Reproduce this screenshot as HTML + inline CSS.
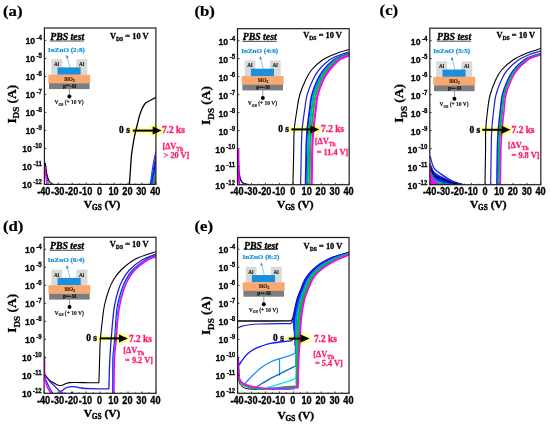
<!DOCTYPE html>
<html><head><meta charset="utf-8"><title>PBS test transfer curves</title>
<style>
html,body{margin:0;padding:0;background:#fff;}
svg{display:block;}
text{white-space:pre;}
</style></head>
<body>
<svg width="550" height="426" viewBox="0 0 550 426">
<rect width="550" height="426" fill="#fff"/>
<g filter="url(#soft)">
<defs><filter id="soft" x="0" y="0" width="550" height="426" filterUnits="userSpaceOnUse"><feGaussianBlur stdDeviation="0.38"/></filter><filter id="glow" x="-20%" y="-60%" width="140%" height="220%"><feGaussianBlur stdDeviation="0.9"/></filter></defs>
<g>
<clipPath id="clipa"><rect x="44.40" y="28.00" width="111.50" height="156.40"/></clipPath>
<g clip-path="url(#clipa)" fill="none" stroke-linejoin="round" stroke-linecap="round">
<path d="M129.40,184.40 C129.60,181.57 130.25,172.27 130.60,167.40 C130.95,162.53 131.03,159.37 131.50,155.20 C131.97,151.03 132.72,146.43 133.40,142.40 C134.08,138.37 134.97,133.90 135.60,131.00 C136.23,128.10 136.55,127.57 137.20,125.00 C137.85,122.43 138.63,118.43 139.50,115.60 C140.37,112.77 141.55,109.90 142.40,108.00 C143.25,106.10 144.03,105.07 144.60,104.20 C145.17,103.33 145.60,103.03 145.80,102.80 L145.80,102.80 L156.00,97.30" stroke="#000" stroke-width="1.3" fill="none"/>
<path d="M150.30,184.40 C150.75,181.17 152.05,170.57 153.00,165.00 C153.95,159.43 155.50,153.33 156.00,151.00" stroke="#0a1aff" stroke-width="1.0" fill="none"/>
<path d="M151.00,184.40 C151.43,181.67 152.77,172.90 153.60,168.00 C154.43,163.10 155.60,157.17 156.00,155.00 L156.00,184.40 L151.00,184.40" stroke="#1f1fd6" stroke-width="1.0" fill="#0a1aff"/>
<path d="M152.60,184.40 C152.87,183.00 153.63,178.73 154.20,176.00 C154.77,173.27 155.70,169.33 156.00,168.00 L156.00,184.40 L152.60,184.40" stroke="#00a5c8" stroke-width="1.0" fill="#00a5c8"/>
<path d="M153.60,184.40 C153.80,183.33 154.40,180.07 154.80,178.00 C155.20,175.93 155.80,173.00 156.00,172.00 L156.00,184.40 L153.60,184.40" stroke="#00c21a" stroke-width="1.0" fill="#00c21a"/>
<path d="M154.60,184.40 C154.72,183.67 155.07,181.32 155.30,180.00 C155.53,178.68 155.88,177.08 156.00,176.50 L156.00,184.40 L154.60,184.40" stroke="#ff00ff" stroke-width="1.0" fill="#ff00ff"/>
<path d="M45.60,165.00 C45.80,167.00 46.30,173.78 46.80,177.00 C47.30,180.22 48.30,183.08 48.60,184.30" stroke="#0a1aff" stroke-width="0.9" fill="none"/>
<path d="M45.20,163.00 C45.40,164.50 45.93,169.43 46.40,172.00 C46.87,174.57 47.40,176.68 48.00,178.40 C48.60,180.12 49.17,181.32 50.00,182.30 C50.83,183.28 52.50,183.97 53.00,184.30" stroke="#000" stroke-width="1.2" fill="none"/>
<path d="M45.30,167.00 C45.38,168.50 45.53,173.12 45.80,176.00 C46.07,178.88 46.72,182.92 46.90,184.30" stroke="#ff00ff" stroke-width="1.4" fill="none"/>
</g>
<rect x="44.40" y="28.00" width="111.50" height="156.40" fill="none" stroke="#1e1e1e" stroke-width="1.2"/>
<path d="M44.40,184.40v-1.8 M58.34,184.40v-1.8 M72.28,184.40v-1.8 M86.21,184.40v-1.8 M100.15,184.40v-1.8 M114.09,184.40v-1.8 M128.03,184.40v-1.8 M141.96,184.40v-1.8 M155.90,184.40v-1.8 M51.37,184.40v-1 M65.31,184.40v-1 M79.24,184.40v-1 M93.18,184.40v-1 M107.12,184.40v-1 M121.06,184.40v-1 M134.99,184.40v-1 M148.93,184.40v-1 M44.40,184.40h2 M44.40,166.40h2 M44.40,148.40h2 M44.40,130.40h2 M44.40,112.40h2 M44.40,94.40h2 M44.40,76.40h2 M44.40,58.40h2 M44.40,40.40h2" stroke="#2a2a2a" stroke-width="0.9" fill="none"/>
<text transform="translate(43.80,194.60) scale(1.02,1.13)" font-family="'Liberation Sans',Arial,sans-serif" font-size="9.00" font-weight="bold" fill="#000" stroke="#000" stroke-width="0.28" text-anchor="middle">-40</text>
<text transform="translate(57.74,194.60) scale(1.02,1.13)" font-family="'Liberation Sans',Arial,sans-serif" font-size="9.00" font-weight="bold" fill="#000" stroke="#000" stroke-width="0.28" text-anchor="middle">-30</text>
<text transform="translate(71.68,194.60) scale(1.02,1.13)" font-family="'Liberation Sans',Arial,sans-serif" font-size="9.00" font-weight="bold" fill="#000" stroke="#000" stroke-width="0.28" text-anchor="middle">-20</text>
<text transform="translate(85.61,194.60) scale(1.02,1.13)" font-family="'Liberation Sans',Arial,sans-serif" font-size="9.00" font-weight="bold" fill="#000" stroke="#000" stroke-width="0.28" text-anchor="middle">-10</text>
<text transform="translate(99.55,194.60) scale(1.02,1.13)" font-family="'Liberation Sans',Arial,sans-serif" font-size="9.00" font-weight="bold" fill="#000" stroke="#000" stroke-width="0.28" text-anchor="middle">0</text>
<text transform="translate(113.49,194.60) scale(1.02,1.13)" font-family="'Liberation Sans',Arial,sans-serif" font-size="9.00" font-weight="bold" fill="#000" stroke="#000" stroke-width="0.28" text-anchor="middle">10</text>
<text transform="translate(127.43,194.60) scale(1.02,1.13)" font-family="'Liberation Sans',Arial,sans-serif" font-size="9.00" font-weight="bold" fill="#000" stroke="#000" stroke-width="0.28" text-anchor="middle">20</text>
<text transform="translate(141.36,194.60) scale(1.02,1.13)" font-family="'Liberation Sans',Arial,sans-serif" font-size="9.00" font-weight="bold" fill="#000" stroke="#000" stroke-width="0.28" text-anchor="middle">30</text>
<text transform="translate(155.30,194.60) scale(1.02,1.13)" font-family="'Liberation Sans',Arial,sans-serif" font-size="9.00" font-weight="bold" fill="#000" stroke="#000" stroke-width="0.28" text-anchor="middle">40</text>
<text transform="translate(31.90,188.30) scale(0.97,1.09)" font-family="'Liberation Sans',Arial,sans-serif" font-size="9.00" font-weight="bold" fill="#000" stroke="#000" stroke-width="0.28" text-anchor="end">10</text>
<text transform="translate(42.00,184.20) scale(0.97,1.0)" font-family="'Liberation Sans',Arial,sans-serif" font-size="6.30" font-weight="bold" fill="#000" stroke="#000" stroke-width="0.28" text-anchor="end">-12</text>
<text transform="translate(31.90,170.30) scale(0.97,1.09)" font-family="'Liberation Sans',Arial,sans-serif" font-size="9.00" font-weight="bold" fill="#000" stroke="#000" stroke-width="0.28" text-anchor="end">10</text>
<text transform="translate(42.00,166.20) scale(0.97,1.0)" font-family="'Liberation Sans',Arial,sans-serif" font-size="6.30" font-weight="bold" fill="#000" stroke="#000" stroke-width="0.28" text-anchor="end">-11</text>
<text transform="translate(31.90,152.30) scale(0.97,1.09)" font-family="'Liberation Sans',Arial,sans-serif" font-size="9.00" font-weight="bold" fill="#000" stroke="#000" stroke-width="0.28" text-anchor="end">10</text>
<text transform="translate(42.00,148.20) scale(0.97,1.0)" font-family="'Liberation Sans',Arial,sans-serif" font-size="6.30" font-weight="bold" fill="#000" stroke="#000" stroke-width="0.28" text-anchor="end">-10</text>
<text transform="translate(35.10,134.30) scale(0.97,1.09)" font-family="'Liberation Sans',Arial,sans-serif" font-size="9.00" font-weight="bold" fill="#000" stroke="#000" stroke-width="0.28" text-anchor="end">10</text>
<text transform="translate(42.00,130.20) scale(0.97,1.0)" font-family="'Liberation Sans',Arial,sans-serif" font-size="6.30" font-weight="bold" fill="#000" stroke="#000" stroke-width="0.28" text-anchor="end">-9</text>
<text transform="translate(35.10,116.30) scale(0.97,1.09)" font-family="'Liberation Sans',Arial,sans-serif" font-size="9.00" font-weight="bold" fill="#000" stroke="#000" stroke-width="0.28" text-anchor="end">10</text>
<text transform="translate(42.00,112.20) scale(0.97,1.0)" font-family="'Liberation Sans',Arial,sans-serif" font-size="6.30" font-weight="bold" fill="#000" stroke="#000" stroke-width="0.28" text-anchor="end">-8</text>
<text transform="translate(35.10,98.30) scale(0.97,1.09)" font-family="'Liberation Sans',Arial,sans-serif" font-size="9.00" font-weight="bold" fill="#000" stroke="#000" stroke-width="0.28" text-anchor="end">10</text>
<text transform="translate(42.00,94.20) scale(0.97,1.0)" font-family="'Liberation Sans',Arial,sans-serif" font-size="6.30" font-weight="bold" fill="#000" stroke="#000" stroke-width="0.28" text-anchor="end">-7</text>
<text transform="translate(35.10,80.30) scale(0.97,1.09)" font-family="'Liberation Sans',Arial,sans-serif" font-size="9.00" font-weight="bold" fill="#000" stroke="#000" stroke-width="0.28" text-anchor="end">10</text>
<text transform="translate(42.00,76.20) scale(0.97,1.0)" font-family="'Liberation Sans',Arial,sans-serif" font-size="6.30" font-weight="bold" fill="#000" stroke="#000" stroke-width="0.28" text-anchor="end">-6</text>
<text transform="translate(35.10,62.30) scale(0.97,1.09)" font-family="'Liberation Sans',Arial,sans-serif" font-size="9.00" font-weight="bold" fill="#000" stroke="#000" stroke-width="0.28" text-anchor="end">10</text>
<text transform="translate(42.00,58.20) scale(0.97,1.0)" font-family="'Liberation Sans',Arial,sans-serif" font-size="6.30" font-weight="bold" fill="#000" stroke="#000" stroke-width="0.28" text-anchor="end">-5</text>
<text transform="translate(35.10,44.30) scale(0.97,1.09)" font-family="'Liberation Sans',Arial,sans-serif" font-size="9.00" font-weight="bold" fill="#000" stroke="#000" stroke-width="0.28" text-anchor="end">10</text>
<text transform="translate(42.00,40.20) scale(0.97,1.0)" font-family="'Liberation Sans',Arial,sans-serif" font-size="6.30" font-weight="bold" fill="#000" stroke="#000" stroke-width="0.28" text-anchor="end">-4</text>
<text x="102.05" y="207.70" font-family="'Liberation Serif','Times New Roman',serif" font-size="11.4" font-weight="bold" font-style="normal" fill="#000" stroke="#000" stroke-width="0.399" text-anchor="middle" xml:space="preserve">V<tspan font-size="64%" dy="0.3em">GS</tspan><tspan dy="-0.192em"> (V)</tspan></text>
<text transform="translate(15.70,104.20) rotate(-90)" font-family="'Liberation Serif','Times New Roman',serif" font-size="13.4" font-weight="bold" stroke="#000" stroke-width="0.3" text-anchor="middle" xml:space="preserve">I<tspan font-size="68%" dy="0.4em">DS</tspan><tspan dy="-0.272em"> (A)</tspan></text>
<text transform="translate(3.00,15.60) scale(1.1,1)" font-family="'Liberation Serif','Times New Roman',serif" font-size="15.2" font-weight="bold" fill="#000" stroke="#000" stroke-width="0.25">(a)</text>
<g transform="translate(44.40,28.00)">
<text x="5.80" y="12.00" font-family="'Liberation Serif','Times New Roman',serif" font-size="9.8" font-weight="bold" font-style="italic" fill="#000" stroke="#000" stroke-width="0.343" text-anchor="start" >PBS test</text>
<path d="M5.60,13.00h34" stroke="#222" stroke-width="0.8"/>
<text x="3.70" y="24.40" font-family="'Liberation Serif','Times New Roman',serif" font-size="7.1" font-weight="bold" font-style="normal" fill="#1b8fdc" stroke="#1b8fdc" stroke-width="0.248" text-anchor="start" >InZnO (2:8)</text>
<g transform="translate(0.00,0.00)">
<rect x="6.9" y="31.2" width="10.8" height="15.6" fill="#d9d9d9"/>
<rect x="32" y="31.2" width="10.9" height="15.6" fill="#d9d9d9"/>
<rect x="13.1" y="39.4" width="23.1" height="7.4" fill="#1b8fdc"/>
<rect x="3.9" y="46.7" width="41.9" height="8.6" fill="#f9a870"/>
<rect x="4.6" y="55.2" width="40.6" height="5.9" fill="#7d7d7d"/>
<text x="12.10" y="38.20" font-family="'Liberation Serif','Times New Roman',serif" font-size="5.2" font-weight="bold" font-style="normal" fill="#222" stroke="#222" stroke-width="0.182" text-anchor="middle" >Al</text>
<text x="37.20" y="38.20" font-family="'Liberation Serif','Times New Roman',serif" font-size="5.2" font-weight="bold" font-style="normal" fill="#222" stroke="#222" stroke-width="0.182" text-anchor="middle" >Al</text>
<text x="25.20" y="52.80" font-family="'Liberation Serif','Times New Roman',serif" font-size="5.4" font-weight="bold" font-style="normal" fill="#3a2008" stroke="#3a2008" stroke-width="0.189" text-anchor="middle" >SiO<tspan font-size="65%" dy="0.25em">2</tspan></text>
<text x="25.20" y="59.90" font-family="'Liberation Serif','Times New Roman',serif" font-size="5.4" font-weight="bold" font-style="normal" fill="#111" stroke="#111" stroke-width="0.189" text-anchor="middle" >p<tspan font-size="65%" dy="-0.4em">++</tspan><tspan dy="0.26em">-Si</tspan></text>
<path d="M25.5,39.4L23,29.6" stroke="#1b8fdc" stroke-width="0.5" fill="none"/>
<path d="M22.3,26.6L24.2,29.6L21.6,30.2Z" fill="#1b8fdc"/>
<path d="M25,61V68" stroke="#333" stroke-width="0.5"/>
<circle cx="25" cy="68.6" r="2.0" fill="#000"/>
<text x="10.00" y="76.20" font-family="'Liberation Serif','Times New Roman',serif" font-size="5.5" font-weight="bold" font-style="normal" fill="#222" stroke="#222" stroke-width="0.193" text-anchor="start" xml:space="preserve">V<tspan font-size="68%" dy="0.36em">GS</tspan><tspan dy="-0.245em"> (+ 10 V)</tspan></text>
</g></g>
<text x="109.90" y="38.70" font-family="'Liberation Serif','Times New Roman',serif" font-size="8.4" font-weight="bold" font-style="normal" fill="#000" stroke="#000" stroke-width="0.294" text-anchor="start" xml:space="preserve">V<tspan font-size="68%" dy="0.36em">DS</tspan><tspan dy="-0.245em"> = 10 V</tspan></text>
<g filter="url(#glow)" style="mix-blend-mode:multiply"><path d="M132.10,130.60H152.70" stroke="#ffff7a" stroke-width="5.4" stroke-linecap="round" fill="none"/><path d="M152.70,126.60L161.60,130.60L152.70,134.60Z" fill="#ffff7a" stroke="#ffff7a" stroke-width="4.2" stroke-linejoin="round"/></g>
<path d="M132.90,130.60H153.70" stroke="#000" stroke-width="2.0" fill="none"/>
<path d="M152.70,126.60L161.60,130.60L152.70,134.60Z" fill="#000"/>
<text x="129.80" y="132.80" font-family="'Liberation Serif','Times New Roman',serif" font-size="9.4" font-weight="bold" font-style="normal" fill="#000" stroke="#000" stroke-width="0.329" text-anchor="end" >0 s</text>
<text x="161.90" y="132.80" font-family="'Liberation Serif','Times New Roman',serif" font-size="9.4" font-weight="bold" font-style="normal" fill="#ff1f6e" stroke="#ff1f6e" stroke-width="0.329" text-anchor="start" >7.2 ks</text>
<text x="162.40" y="148.50" font-family="'Liberation Serif','Times New Roman',serif" font-size="8.3" font-weight="bold" font-style="normal" fill="#ff1f6e" stroke="#ff1f6e" stroke-width="0.291" text-anchor="start" >[&#916;V<tspan font-size="68%" dy="0.36em">Th</tspan></text>
<text x="163.60" y="158.30" font-family="'Liberation Serif','Times New Roman',serif" font-size="8.3" font-weight="bold" font-style="normal" fill="#ff1f6e" stroke="#ff1f6e" stroke-width="0.291" text-anchor="start" xml:space="preserve">&gt; 20 V]</text>
</g>
<g>
<clipPath id="clipb"><rect x="237.50" y="28.70" width="111.70" height="156.00"/></clipPath>
<g clip-path="url(#clipb)" fill="none" stroke-linejoin="round" stroke-linecap="round">
<path d="M292.90,184.70 C292.98,181.42 293.25,171.28 293.40,165.00 C293.55,158.72 293.67,152.83 293.80,147.00 C293.93,141.17 293.68,136.17 294.20,130.00 C294.72,123.83 295.98,115.83 296.90,110.00 C297.82,104.17 298.25,100.00 299.70,95.00 C301.15,90.00 303.63,84.17 305.60,80.00 C307.57,75.83 308.68,73.33 311.50,70.00 C314.32,66.67 318.58,62.67 322.50,60.00 C326.42,57.33 330.55,55.75 335.00,54.00 C339.45,52.25 346.83,50.25 349.20,49.50" stroke="#000" stroke-width="1.1" fill="none"/>
<path d="M300.61,184.70 C300.68,181.42 300.90,171.28 301.03,165.00 C301.16,158.72 301.21,152.83 301.38,147.00 C301.56,141.17 301.53,136.17 302.07,130.00 C302.61,123.83 303.77,115.83 304.61,110.00 C305.44,104.17 305.71,100.00 307.08,95.00 C308.45,90.00 310.86,84.17 312.82,80.00 C314.78,75.83 316.10,73.33 318.84,70.00 C321.58,66.67 325.96,62.43 329.26,60.00 C332.57,57.57 335.37,56.78 338.69,55.44 C342.01,54.09 347.45,52.54 349.20,51.96" stroke="#1f1fd6" stroke-width="1.2" fill="none"/>
<path d="M305.68,184.70 C305.74,181.42 305.93,171.28 306.05,165.00 C306.16,158.72 306.18,152.83 306.38,147.00 C306.58,141.17 306.71,136.17 307.26,130.00 C307.81,123.83 308.90,115.83 309.68,110.00 C310.46,104.17 310.63,100.00 311.94,95.00 C313.25,90.00 315.61,84.17 317.57,80.00 C319.52,75.83 320.98,73.33 323.67,70.00 C326.36,66.67 330.81,62.27 333.72,60.00 C336.63,57.73 338.54,57.45 341.12,56.38 C343.70,55.31 347.85,54.05 349.20,53.58" stroke="#0a1aff" stroke-width="1.9" fill="none"/>
<path d="M307.56,184.70 C307.62,181.42 307.80,171.28 307.91,165.00 C308.02,158.72 308.02,152.83 308.23,147.00 C308.44,141.17 308.62,136.17 309.18,130.00 C309.73,123.83 310.80,115.83 311.56,110.00 C312.32,104.17 312.45,100.00 313.74,95.00 C315.03,90.00 317.37,84.17 319.33,80.00 C321.28,75.83 322.79,73.33 325.46,70.00 C328.14,66.67 332.61,62.21 335.37,60.00 C338.13,57.79 339.71,57.70 342.02,56.73 C344.32,55.76 348.00,54.60 349.20,54.18" stroke="#00a5c8" stroke-width="2.0" fill="none"/>
<path d="M309.54,184.70 C309.59,181.42 309.76,171.28 309.86,165.00 C309.97,158.72 309.95,152.83 310.17,147.00 C310.39,141.17 310.63,136.17 311.19,130.00 C311.75,123.83 312.80,115.83 313.54,110.00 C314.28,104.17 314.36,100.00 315.63,95.00 C316.90,90.00 319.22,84.17 321.18,80.00 C323.13,75.83 324.69,73.33 327.34,70.00 C330.00,66.67 334.50,62.15 337.10,60.00 C339.71,57.85 340.95,57.96 342.96,57.10 C344.98,56.23 348.16,55.19 349.20,54.81" stroke="#00c21a" stroke-width="2.0" fill="none"/>
<path d="M311.70,184.70 C311.75,181.42 311.90,171.28 312.00,165.00 C312.10,158.72 312.07,152.83 312.30,147.00 C312.53,141.17 312.83,136.17 313.40,130.00 C313.97,123.83 314.98,115.83 315.70,110.00 C316.42,104.17 316.45,100.00 317.70,95.00 C318.95,90.00 321.25,84.17 323.20,80.00 C325.15,75.83 326.77,73.33 329.40,70.00 C332.03,66.67 336.57,62.08 339.00,60.00 C341.43,57.92 342.30,58.25 344.00,57.50 C345.70,56.75 348.33,55.83 349.20,55.50" stroke="#ff00ff" stroke-width="2.1" fill="none"/>
<path d="M238.20,152.00 C238.33,155.00 238.62,165.50 239.00,170.00 C239.38,174.50 239.75,176.73 240.50,179.00 C241.25,181.27 242.08,182.68 243.50,183.60 C244.92,184.52 248.08,184.35 249.00,184.50" stroke="#0a1aff" stroke-width="1.2" fill="none"/>
<path d="M238.20,165.00 C238.40,167.00 238.77,174.12 239.40,177.00 C240.03,179.88 240.73,181.08 242.00,182.30 C243.27,183.52 246.17,183.97 247.00,184.30" stroke="#000" stroke-width="0.9" fill="none"/>
<path d="M238.50,150.00 C238.52,153.67 238.48,166.25 238.60,172.00 C238.72,177.75 239.10,182.42 239.20,184.50" stroke="#ff00ff" stroke-width="1.9" fill="none"/>
</g>
<rect x="237.50" y="28.70" width="111.70" height="156.00" fill="none" stroke="#1e1e1e" stroke-width="1.2"/>
<path d="M237.50,184.70v-1.8 M251.46,184.70v-1.8 M265.43,184.70v-1.8 M279.39,184.70v-1.8 M293.35,184.70v-1.8 M307.31,184.70v-1.8 M321.27,184.70v-1.8 M335.24,184.70v-1.8 M349.20,184.70v-1.8 M244.48,184.70v-1 M258.44,184.70v-1 M272.41,184.70v-1 M286.37,184.70v-1 M300.33,184.70v-1 M314.29,184.70v-1 M328.26,184.70v-1 M342.22,184.70v-1 M237.50,184.70h2 M237.50,166.70h2 M237.50,148.70h2 M237.50,130.70h2 M237.50,112.70h2 M237.50,94.70h2 M237.50,76.70h2 M237.50,58.70h2 M237.50,40.70h2" stroke="#2a2a2a" stroke-width="0.9" fill="none"/>
<text transform="translate(236.90,194.90) scale(1.02,1.13)" font-family="'Liberation Sans',Arial,sans-serif" font-size="9.00" font-weight="bold" fill="#000" stroke="#000" stroke-width="0.28" text-anchor="middle">-40</text>
<text transform="translate(250.86,194.90) scale(1.02,1.13)" font-family="'Liberation Sans',Arial,sans-serif" font-size="9.00" font-weight="bold" fill="#000" stroke="#000" stroke-width="0.28" text-anchor="middle">-30</text>
<text transform="translate(264.82,194.90) scale(1.02,1.13)" font-family="'Liberation Sans',Arial,sans-serif" font-size="9.00" font-weight="bold" fill="#000" stroke="#000" stroke-width="0.28" text-anchor="middle">-20</text>
<text transform="translate(278.79,194.90) scale(1.02,1.13)" font-family="'Liberation Sans',Arial,sans-serif" font-size="9.00" font-weight="bold" fill="#000" stroke="#000" stroke-width="0.28" text-anchor="middle">-10</text>
<text transform="translate(292.75,194.90) scale(1.02,1.13)" font-family="'Liberation Sans',Arial,sans-serif" font-size="9.00" font-weight="bold" fill="#000" stroke="#000" stroke-width="0.28" text-anchor="middle">0</text>
<text transform="translate(306.71,194.90) scale(1.02,1.13)" font-family="'Liberation Sans',Arial,sans-serif" font-size="9.00" font-weight="bold" fill="#000" stroke="#000" stroke-width="0.28" text-anchor="middle">10</text>
<text transform="translate(320.67,194.90) scale(1.02,1.13)" font-family="'Liberation Sans',Arial,sans-serif" font-size="9.00" font-weight="bold" fill="#000" stroke="#000" stroke-width="0.28" text-anchor="middle">20</text>
<text transform="translate(334.64,194.90) scale(1.02,1.13)" font-family="'Liberation Sans',Arial,sans-serif" font-size="9.00" font-weight="bold" fill="#000" stroke="#000" stroke-width="0.28" text-anchor="middle">30</text>
<text transform="translate(348.60,194.90) scale(1.02,1.13)" font-family="'Liberation Sans',Arial,sans-serif" font-size="9.00" font-weight="bold" fill="#000" stroke="#000" stroke-width="0.28" text-anchor="middle">40</text>
<text transform="translate(225.00,188.60) scale(0.97,1.09)" font-family="'Liberation Sans',Arial,sans-serif" font-size="9.00" font-weight="bold" fill="#000" stroke="#000" stroke-width="0.28" text-anchor="end">10</text>
<text transform="translate(235.10,184.50) scale(0.97,1.0)" font-family="'Liberation Sans',Arial,sans-serif" font-size="6.30" font-weight="bold" fill="#000" stroke="#000" stroke-width="0.28" text-anchor="end">-12</text>
<text transform="translate(225.00,170.60) scale(0.97,1.09)" font-family="'Liberation Sans',Arial,sans-serif" font-size="9.00" font-weight="bold" fill="#000" stroke="#000" stroke-width="0.28" text-anchor="end">10</text>
<text transform="translate(235.10,166.50) scale(0.97,1.0)" font-family="'Liberation Sans',Arial,sans-serif" font-size="6.30" font-weight="bold" fill="#000" stroke="#000" stroke-width="0.28" text-anchor="end">-11</text>
<text transform="translate(225.00,152.60) scale(0.97,1.09)" font-family="'Liberation Sans',Arial,sans-serif" font-size="9.00" font-weight="bold" fill="#000" stroke="#000" stroke-width="0.28" text-anchor="end">10</text>
<text transform="translate(235.10,148.50) scale(0.97,1.0)" font-family="'Liberation Sans',Arial,sans-serif" font-size="6.30" font-weight="bold" fill="#000" stroke="#000" stroke-width="0.28" text-anchor="end">-10</text>
<text transform="translate(228.20,134.60) scale(0.97,1.09)" font-family="'Liberation Sans',Arial,sans-serif" font-size="9.00" font-weight="bold" fill="#000" stroke="#000" stroke-width="0.28" text-anchor="end">10</text>
<text transform="translate(235.10,130.50) scale(0.97,1.0)" font-family="'Liberation Sans',Arial,sans-serif" font-size="6.30" font-weight="bold" fill="#000" stroke="#000" stroke-width="0.28" text-anchor="end">-9</text>
<text transform="translate(228.20,116.60) scale(0.97,1.09)" font-family="'Liberation Sans',Arial,sans-serif" font-size="9.00" font-weight="bold" fill="#000" stroke="#000" stroke-width="0.28" text-anchor="end">10</text>
<text transform="translate(235.10,112.50) scale(0.97,1.0)" font-family="'Liberation Sans',Arial,sans-serif" font-size="6.30" font-weight="bold" fill="#000" stroke="#000" stroke-width="0.28" text-anchor="end">-8</text>
<text transform="translate(228.20,98.60) scale(0.97,1.09)" font-family="'Liberation Sans',Arial,sans-serif" font-size="9.00" font-weight="bold" fill="#000" stroke="#000" stroke-width="0.28" text-anchor="end">10</text>
<text transform="translate(235.10,94.50) scale(0.97,1.0)" font-family="'Liberation Sans',Arial,sans-serif" font-size="6.30" font-weight="bold" fill="#000" stroke="#000" stroke-width="0.28" text-anchor="end">-7</text>
<text transform="translate(228.20,80.60) scale(0.97,1.09)" font-family="'Liberation Sans',Arial,sans-serif" font-size="9.00" font-weight="bold" fill="#000" stroke="#000" stroke-width="0.28" text-anchor="end">10</text>
<text transform="translate(235.10,76.50) scale(0.97,1.0)" font-family="'Liberation Sans',Arial,sans-serif" font-size="6.30" font-weight="bold" fill="#000" stroke="#000" stroke-width="0.28" text-anchor="end">-6</text>
<text transform="translate(228.20,62.60) scale(0.97,1.09)" font-family="'Liberation Sans',Arial,sans-serif" font-size="9.00" font-weight="bold" fill="#000" stroke="#000" stroke-width="0.28" text-anchor="end">10</text>
<text transform="translate(235.10,58.50) scale(0.97,1.0)" font-family="'Liberation Sans',Arial,sans-serif" font-size="6.30" font-weight="bold" fill="#000" stroke="#000" stroke-width="0.28" text-anchor="end">-5</text>
<text transform="translate(228.20,44.60) scale(0.97,1.09)" font-family="'Liberation Sans',Arial,sans-serif" font-size="9.00" font-weight="bold" fill="#000" stroke="#000" stroke-width="0.28" text-anchor="end">10</text>
<text transform="translate(235.10,40.50) scale(0.97,1.0)" font-family="'Liberation Sans',Arial,sans-serif" font-size="6.30" font-weight="bold" fill="#000" stroke="#000" stroke-width="0.28" text-anchor="end">-4</text>
<text x="295.25" y="208.00" font-family="'Liberation Serif','Times New Roman',serif" font-size="11.4" font-weight="bold" font-style="normal" fill="#000" stroke="#000" stroke-width="0.399" text-anchor="middle" xml:space="preserve">V<tspan font-size="64%" dy="0.3em">GS</tspan><tspan dy="-0.192em"> (V)</tspan></text>
<text transform="translate(210.30,105.50) rotate(-90)" font-family="'Liberation Serif','Times New Roman',serif" font-size="13.4" font-weight="bold" stroke="#000" stroke-width="0.3" text-anchor="middle" xml:space="preserve">I<tspan font-size="68%" dy="0.4em">DS</tspan><tspan dy="-0.272em"> (A)</tspan></text>
<text transform="translate(194.40,15.60) scale(1.1,1)" font-family="'Liberation Serif','Times New Roman',serif" font-size="15.2" font-weight="bold" fill="#000" stroke="#000" stroke-width="0.25">(b)</text>
<g transform="translate(237.50,28.70)">
<text x="5.20" y="11.70" font-family="'Liberation Serif','Times New Roman',serif" font-size="9.8" font-weight="bold" font-style="italic" fill="#000" stroke="#000" stroke-width="0.343" text-anchor="start" >PBS test</text>
<path d="M5.00,12.70h34" stroke="#222" stroke-width="0.8"/>
<text x="3.70" y="24.10" font-family="'Liberation Serif','Times New Roman',serif" font-size="7.1" font-weight="bold" font-style="normal" fill="#1b8fdc" stroke="#1b8fdc" stroke-width="0.248" text-anchor="start" >InZnO (4:6)</text>
<g transform="translate(0.30,0.60)">
<rect x="6.9" y="31.2" width="10.8" height="15.6" fill="#d9d9d9"/>
<rect x="32" y="31.2" width="10.9" height="15.6" fill="#d9d9d9"/>
<rect x="13.1" y="39.4" width="23.1" height="7.4" fill="#1b8fdc"/>
<rect x="3.9" y="46.7" width="41.9" height="8.6" fill="#f9a870"/>
<rect x="4.6" y="55.2" width="40.6" height="5.9" fill="#7d7d7d"/>
<text x="12.10" y="38.20" font-family="'Liberation Serif','Times New Roman',serif" font-size="5.2" font-weight="bold" font-style="normal" fill="#222" stroke="#222" stroke-width="0.182" text-anchor="middle" >Al</text>
<text x="37.20" y="38.20" font-family="'Liberation Serif','Times New Roman',serif" font-size="5.2" font-weight="bold" font-style="normal" fill="#222" stroke="#222" stroke-width="0.182" text-anchor="middle" >Al</text>
<text x="25.20" y="52.80" font-family="'Liberation Serif','Times New Roman',serif" font-size="5.4" font-weight="bold" font-style="normal" fill="#3a2008" stroke="#3a2008" stroke-width="0.189" text-anchor="middle" >SiO<tspan font-size="65%" dy="0.25em">2</tspan></text>
<text x="25.20" y="59.90" font-family="'Liberation Serif','Times New Roman',serif" font-size="5.4" font-weight="bold" font-style="normal" fill="#111" stroke="#111" stroke-width="0.189" text-anchor="middle" >p<tspan font-size="65%" dy="-0.4em">++</tspan><tspan dy="0.26em">-Si</tspan></text>
<path d="M25.5,39.4L23,29.6" stroke="#1b8fdc" stroke-width="0.5" fill="none"/>
<path d="M22.3,26.6L24.2,29.6L21.6,30.2Z" fill="#1b8fdc"/>
<path d="M25,61V68" stroke="#333" stroke-width="0.5"/>
<circle cx="25" cy="68.6" r="2.0" fill="#000"/>
<text x="10.00" y="76.20" font-family="'Liberation Serif','Times New Roman',serif" font-size="5.5" font-weight="bold" font-style="normal" fill="#222" stroke="#222" stroke-width="0.193" text-anchor="start" xml:space="preserve">V<tspan font-size="68%" dy="0.36em">GS</tspan><tspan dy="-0.245em"> (+ 10 V)</tspan></text>
</g></g>
<text x="303.20" y="37.90" font-family="'Liberation Serif','Times New Roman',serif" font-size="8.4" font-weight="bold" font-style="normal" fill="#000" stroke="#000" stroke-width="0.294" text-anchor="start" xml:space="preserve">V<tspan font-size="68%" dy="0.36em">DS</tspan><tspan dy="-0.245em"> = 10 V</tspan></text>
<g filter="url(#glow)" style="mix-blend-mode:multiply"><path d="M290.50,129.40H310.40" stroke="#ffff7a" stroke-width="5.4" stroke-linecap="round" fill="none"/><path d="M310.40,125.40L319.30,129.40L310.40,133.40Z" fill="#ffff7a" stroke="#ffff7a" stroke-width="4.2" stroke-linejoin="round"/></g>
<path d="M291.30,129.40H311.40" stroke="#000" stroke-width="2.0" fill="none"/>
<path d="M310.40,125.40L319.30,129.40L310.40,133.40Z" fill="#000"/>
<text x="289.00" y="132.40" font-family="'Liberation Serif','Times New Roman',serif" font-size="9.4" font-weight="bold" font-style="normal" fill="#000" stroke="#000" stroke-width="0.329" text-anchor="end" >0 s</text>
<text x="321.10" y="132.40" font-family="'Liberation Serif','Times New Roman',serif" font-size="9.4" font-weight="bold" font-style="normal" fill="#ff1f6e" stroke="#ff1f6e" stroke-width="0.329" text-anchor="start" >7.2 ks</text>
<text x="314.70" y="144.40" font-family="'Liberation Serif','Times New Roman',serif" font-size="8.3" font-weight="bold" font-style="normal" fill="#ff1f6e" stroke="#ff1f6e" stroke-width="0.291" text-anchor="start" >[&#916;V<tspan font-size="68%" dy="0.36em">Th</tspan></text>
<text x="316.70" y="154.50" font-family="'Liberation Serif','Times New Roman',serif" font-size="8.3" font-weight="bold" font-style="normal" fill="#ff1f6e" stroke="#ff1f6e" stroke-width="0.291" text-anchor="start" xml:space="preserve">= 11.4 V]</text>
</g>
<g>
<clipPath id="clipc"><rect x="429.80" y="28.20" width="111.00" height="156.50"/></clipPath>
<g clip-path="url(#clipc)" fill="none" stroke-linejoin="round" stroke-linecap="round">
<path d="M485.00,184.70 C485.05,181.42 485.20,171.28 485.30,165.00 C485.40,158.72 485.53,152.83 485.60,147.00 C485.67,141.17 485.37,136.17 485.70,130.00 C486.03,123.83 486.87,115.83 487.60,110.00 C488.33,104.17 488.77,100.00 490.10,95.00 C491.43,90.00 493.68,84.17 495.60,80.00 C497.52,75.83 498.70,73.33 501.60,70.00 C504.50,66.67 508.93,62.75 513.00,60.00 C517.07,57.25 521.37,55.40 526.00,53.50 C530.63,51.60 538.33,49.42 540.80,48.60" stroke="#000" stroke-width="1.1" fill="none"/>
<path d="M490.66,184.70 C490.71,181.42 490.86,171.28 490.96,165.00 C491.06,158.72 491.13,152.83 491.26,147.00 C491.39,141.17 491.32,136.17 491.73,130.00 C492.14,123.83 493.00,115.83 493.71,110.00 C494.41,104.17 494.67,100.00 495.95,95.00 C497.22,90.00 499.47,84.17 501.37,80.00 C503.27,75.83 504.50,73.33 507.34,70.00 C510.17,66.67 514.76,62.53 518.37,60.00 C521.97,57.47 525.22,56.30 528.96,54.80 C532.70,53.29 538.83,51.61 540.80,50.97" stroke="#1f1fd6" stroke-width="1.2" fill="none"/>
<path d="M496.93,184.70 C496.98,181.42 497.13,171.28 497.23,165.00 C497.33,158.72 497.34,152.83 497.53,147.00 C497.73,141.17 497.92,136.17 498.41,130.00 C498.90,123.83 499.80,115.83 500.47,110.00 C501.14,104.17 501.21,100.00 502.42,95.00 C503.64,90.00 505.89,84.17 507.77,80.00 C509.65,75.83 510.93,73.33 513.69,70.00 C516.45,66.67 521.22,62.30 524.31,60.00 C527.40,57.70 529.49,57.30 532.24,56.23 C534.99,55.16 539.37,54.03 540.80,53.59" stroke="#0a1aff" stroke-width="1.7" fill="none"/>
<path d="M498.16,184.70 C498.21,181.42 498.36,171.28 498.46,165.00 C498.56,158.72 498.55,152.83 498.76,147.00 C498.97,141.17 499.21,136.17 499.72,130.00 C500.22,123.83 501.13,115.83 501.79,110.00 C502.45,104.17 502.48,100.00 503.69,95.00 C504.89,90.00 507.14,84.17 509.02,80.00 C510.89,75.83 512.19,73.33 514.93,70.00 C517.67,66.67 522.48,62.25 525.47,60.00 C528.46,57.75 530.33,57.49 532.88,56.51 C535.43,55.53 539.48,54.50 540.80,54.10" stroke="#00a5c8" stroke-width="1.5" fill="none"/>
<path d="M498.92,184.70 C498.97,181.42 499.12,171.28 499.22,165.00 C499.32,158.72 499.30,152.83 499.52,147.00 C499.74,141.17 500.02,136.17 500.53,130.00 C501.05,123.83 501.96,115.83 502.62,110.00 C503.27,104.17 503.28,100.00 504.48,95.00 C505.67,90.00 507.92,84.17 509.80,80.00 C511.67,75.83 512.97,73.33 515.71,70.00 C518.44,66.67 523.27,62.22 526.20,60.00 C529.12,57.78 530.85,57.61 533.28,56.69 C535.71,55.76 539.55,54.80 540.80,54.42" stroke="#00c21a" stroke-width="1.5" fill="none"/>
<path d="M500.30,184.70 C500.35,181.42 500.50,171.28 500.60,165.00 C500.70,158.72 500.67,152.83 500.90,147.00 C501.13,141.17 501.47,136.17 502.00,130.00 C502.53,123.83 503.45,115.83 504.10,110.00 C504.75,104.17 504.72,100.00 505.90,95.00 C507.08,90.00 509.33,84.17 511.20,80.00 C513.07,75.83 514.38,73.33 517.10,70.00 C519.82,66.67 524.68,62.17 527.50,60.00 C530.32,57.83 531.78,57.83 534.00,57.00 C536.22,56.17 539.67,55.33 540.80,55.00" stroke="#ff00ff" stroke-width="1.6" fill="none"/>
<path d="M430.20,163.50 C430.92,164.97 432.32,169.95 434.50,172.30 C436.68,174.65 440.30,176.02 443.30,177.60 C446.30,179.18 449.38,180.62 452.50,181.80 C455.62,182.98 460.42,184.22 462.00,184.70 L430.20,184.70 L430.20,163.50" stroke="#0a1aff" stroke-width="0.8" fill="#0a1aff"/>
<path d="M430.20,156.40 C430.87,158.38 432.02,165.10 434.20,168.30 C436.38,171.50 440.25,173.47 443.30,175.60 C446.35,177.73 449.13,179.62 452.50,181.10 C455.87,182.58 461.67,183.93 463.50,184.50" stroke="#1f1fd6" stroke-width="1.3" fill="none"/>
<path d="M430.20,166.00 C430.67,167.25 431.70,171.62 433.00,173.50 C434.30,175.38 435.52,176.02 438.00,177.30 C440.48,178.58 444.57,180.02 447.90,181.20 C451.23,182.38 456.32,183.87 458.00,184.40" stroke="#000" stroke-width="1.1" fill="none"/>
<path d="M430.20,170.00 C430.83,171.38 432.20,176.27 434.00,178.30 C435.80,180.33 438.00,181.13 441.00,182.20 C444.00,183.27 450.17,184.28 452.00,184.70 L430.20,184.70 L430.20,170.00" stroke="#00a5c8" stroke-width="0.8" fill="#00a5c8"/>
<path d="M430.20,171.00 C430.77,172.47 431.97,177.73 433.60,179.80 C435.23,181.87 437.68,182.58 440.00,183.40 C442.32,184.22 446.25,184.48 447.50,184.70 L430.20,184.70 L430.20,171.00" stroke="#00c21a" stroke-width="0.8" fill="#00c21a"/>
<path d="M430.20,165.00 C430.33,166.50 430.43,171.50 431.00,174.00 C431.57,176.50 432.60,178.47 433.60,180.00 C434.60,181.53 435.60,182.42 437.00,183.20 C438.40,183.98 441.17,184.45 442.00,184.70 L430.20,184.70 L430.20,165.00" stroke="#ff00ff" stroke-width="0.8" fill="#ff00ff"/>
</g>
<rect x="429.80" y="28.20" width="111.00" height="156.50" fill="none" stroke="#1e1e1e" stroke-width="1.2"/>
<path d="M429.80,184.70v-1.8 M443.68,184.70v-1.8 M457.55,184.70v-1.8 M471.43,184.70v-1.8 M485.30,184.70v-1.8 M499.17,184.70v-1.8 M513.05,184.70v-1.8 M526.92,184.70v-1.8 M540.80,184.70v-1.8 M436.74,184.70v-1 M450.61,184.70v-1 M464.49,184.70v-1 M478.36,184.70v-1 M492.24,184.70v-1 M506.11,184.70v-1 M519.99,184.70v-1 M533.86,184.70v-1 M429.80,184.70h2 M429.80,166.70h2 M429.80,148.70h2 M429.80,130.70h2 M429.80,112.70h2 M429.80,94.70h2 M429.80,76.70h2 M429.80,58.70h2 M429.80,40.70h2" stroke="#2a2a2a" stroke-width="0.9" fill="none"/>
<text transform="translate(429.60,194.90) scale(1.02,1.13)" font-family="'Liberation Sans',Arial,sans-serif" font-size="9.00" font-weight="bold" fill="#000" stroke="#000" stroke-width="0.28" text-anchor="middle">-40</text>
<text transform="translate(443.48,194.90) scale(1.02,1.13)" font-family="'Liberation Sans',Arial,sans-serif" font-size="9.00" font-weight="bold" fill="#000" stroke="#000" stroke-width="0.28" text-anchor="middle">-30</text>
<text transform="translate(457.35,194.90) scale(1.02,1.13)" font-family="'Liberation Sans',Arial,sans-serif" font-size="9.00" font-weight="bold" fill="#000" stroke="#000" stroke-width="0.28" text-anchor="middle">-20</text>
<text transform="translate(471.23,194.90) scale(1.02,1.13)" font-family="'Liberation Sans',Arial,sans-serif" font-size="9.00" font-weight="bold" fill="#000" stroke="#000" stroke-width="0.28" text-anchor="middle">-10</text>
<text transform="translate(485.10,194.90) scale(1.02,1.13)" font-family="'Liberation Sans',Arial,sans-serif" font-size="9.00" font-weight="bold" fill="#000" stroke="#000" stroke-width="0.28" text-anchor="middle">0</text>
<text transform="translate(498.97,194.90) scale(1.02,1.13)" font-family="'Liberation Sans',Arial,sans-serif" font-size="9.00" font-weight="bold" fill="#000" stroke="#000" stroke-width="0.28" text-anchor="middle">10</text>
<text transform="translate(512.85,194.90) scale(1.02,1.13)" font-family="'Liberation Sans',Arial,sans-serif" font-size="9.00" font-weight="bold" fill="#000" stroke="#000" stroke-width="0.28" text-anchor="middle">20</text>
<text transform="translate(526.72,194.90) scale(1.02,1.13)" font-family="'Liberation Sans',Arial,sans-serif" font-size="9.00" font-weight="bold" fill="#000" stroke="#000" stroke-width="0.28" text-anchor="middle">30</text>
<text transform="translate(540.60,194.90) scale(1.02,1.13)" font-family="'Liberation Sans',Arial,sans-serif" font-size="9.00" font-weight="bold" fill="#000" stroke="#000" stroke-width="0.28" text-anchor="middle">40</text>
<text transform="translate(417.30,188.60) scale(0.97,1.09)" font-family="'Liberation Sans',Arial,sans-serif" font-size="9.00" font-weight="bold" fill="#000" stroke="#000" stroke-width="0.28" text-anchor="end">10</text>
<text transform="translate(427.40,184.50) scale(0.97,1.0)" font-family="'Liberation Sans',Arial,sans-serif" font-size="6.30" font-weight="bold" fill="#000" stroke="#000" stroke-width="0.28" text-anchor="end">-12</text>
<text transform="translate(417.30,170.60) scale(0.97,1.09)" font-family="'Liberation Sans',Arial,sans-serif" font-size="9.00" font-weight="bold" fill="#000" stroke="#000" stroke-width="0.28" text-anchor="end">10</text>
<text transform="translate(427.40,166.50) scale(0.97,1.0)" font-family="'Liberation Sans',Arial,sans-serif" font-size="6.30" font-weight="bold" fill="#000" stroke="#000" stroke-width="0.28" text-anchor="end">-11</text>
<text transform="translate(417.30,152.60) scale(0.97,1.09)" font-family="'Liberation Sans',Arial,sans-serif" font-size="9.00" font-weight="bold" fill="#000" stroke="#000" stroke-width="0.28" text-anchor="end">10</text>
<text transform="translate(427.40,148.50) scale(0.97,1.0)" font-family="'Liberation Sans',Arial,sans-serif" font-size="6.30" font-weight="bold" fill="#000" stroke="#000" stroke-width="0.28" text-anchor="end">-10</text>
<text transform="translate(420.50,134.60) scale(0.97,1.09)" font-family="'Liberation Sans',Arial,sans-serif" font-size="9.00" font-weight="bold" fill="#000" stroke="#000" stroke-width="0.28" text-anchor="end">10</text>
<text transform="translate(427.40,130.50) scale(0.97,1.0)" font-family="'Liberation Sans',Arial,sans-serif" font-size="6.30" font-weight="bold" fill="#000" stroke="#000" stroke-width="0.28" text-anchor="end">-9</text>
<text transform="translate(420.50,116.60) scale(0.97,1.09)" font-family="'Liberation Sans',Arial,sans-serif" font-size="9.00" font-weight="bold" fill="#000" stroke="#000" stroke-width="0.28" text-anchor="end">10</text>
<text transform="translate(427.40,112.50) scale(0.97,1.0)" font-family="'Liberation Sans',Arial,sans-serif" font-size="6.30" font-weight="bold" fill="#000" stroke="#000" stroke-width="0.28" text-anchor="end">-8</text>
<text transform="translate(420.50,98.60) scale(0.97,1.09)" font-family="'Liberation Sans',Arial,sans-serif" font-size="9.00" font-weight="bold" fill="#000" stroke="#000" stroke-width="0.28" text-anchor="end">10</text>
<text transform="translate(427.40,94.50) scale(0.97,1.0)" font-family="'Liberation Sans',Arial,sans-serif" font-size="6.30" font-weight="bold" fill="#000" stroke="#000" stroke-width="0.28" text-anchor="end">-7</text>
<text transform="translate(420.50,80.60) scale(0.97,1.09)" font-family="'Liberation Sans',Arial,sans-serif" font-size="9.00" font-weight="bold" fill="#000" stroke="#000" stroke-width="0.28" text-anchor="end">10</text>
<text transform="translate(427.40,76.50) scale(0.97,1.0)" font-family="'Liberation Sans',Arial,sans-serif" font-size="6.30" font-weight="bold" fill="#000" stroke="#000" stroke-width="0.28" text-anchor="end">-6</text>
<text transform="translate(420.50,62.60) scale(0.97,1.09)" font-family="'Liberation Sans',Arial,sans-serif" font-size="9.00" font-weight="bold" fill="#000" stroke="#000" stroke-width="0.28" text-anchor="end">10</text>
<text transform="translate(427.40,58.50) scale(0.97,1.0)" font-family="'Liberation Sans',Arial,sans-serif" font-size="6.30" font-weight="bold" fill="#000" stroke="#000" stroke-width="0.28" text-anchor="end">-5</text>
<text transform="translate(420.50,44.60) scale(0.97,1.09)" font-family="'Liberation Sans',Arial,sans-serif" font-size="9.00" font-weight="bold" fill="#000" stroke="#000" stroke-width="0.28" text-anchor="end">10</text>
<text transform="translate(427.40,40.50) scale(0.97,1.0)" font-family="'Liberation Sans',Arial,sans-serif" font-size="6.30" font-weight="bold" fill="#000" stroke="#000" stroke-width="0.28" text-anchor="end">-4</text>
<text x="488.20" y="208.00" font-family="'Liberation Serif','Times New Roman',serif" font-size="11.4" font-weight="bold" font-style="normal" fill="#000" stroke="#000" stroke-width="0.399" text-anchor="middle" xml:space="preserve">V<tspan font-size="64%" dy="0.3em">GS</tspan><tspan dy="-0.192em"> (V)</tspan></text>
<text transform="translate(403.10,103.45) rotate(-90)" font-family="'Liberation Serif','Times New Roman',serif" font-size="13.4" font-weight="bold" stroke="#000" stroke-width="0.3" text-anchor="middle" xml:space="preserve">I<tspan font-size="68%" dy="0.4em">DS</tspan><tspan dy="-0.272em"> (A)</tspan></text>
<text transform="translate(379.60,15.10) scale(1.1,1)" font-family="'Liberation Serif','Times New Roman',serif" font-size="15.2" font-weight="bold" fill="#000" stroke="#000" stroke-width="0.25">(c)</text>
<g transform="translate(429.80,28.20)">
<text x="7.30" y="12.00" font-family="'Liberation Serif','Times New Roman',serif" font-size="9.8" font-weight="bold" font-style="italic" fill="#000" stroke="#000" stroke-width="0.343" text-anchor="start" >PBS test</text>
<path d="M7.10,13.00h34" stroke="#222" stroke-width="0.8"/>
<text x="3.40" y="25.00" font-family="'Liberation Serif','Times New Roman',serif" font-size="7.1" font-weight="bold" font-style="normal" fill="#1b8fdc" stroke="#1b8fdc" stroke-width="0.248" text-anchor="start" >InZnO (5:5)</text>
<g transform="translate(-0.40,1.90)">
<rect x="6.9" y="31.2" width="10.8" height="15.6" fill="#d9d9d9"/>
<rect x="32" y="31.2" width="10.9" height="15.6" fill="#d9d9d9"/>
<rect x="13.1" y="39.4" width="23.1" height="7.4" fill="#1b8fdc"/>
<rect x="3.9" y="46.7" width="41.9" height="8.6" fill="#f9a870"/>
<rect x="4.6" y="55.2" width="40.6" height="5.9" fill="#7d7d7d"/>
<text x="12.10" y="38.20" font-family="'Liberation Serif','Times New Roman',serif" font-size="5.2" font-weight="bold" font-style="normal" fill="#222" stroke="#222" stroke-width="0.182" text-anchor="middle" >Al</text>
<text x="37.20" y="38.20" font-family="'Liberation Serif','Times New Roman',serif" font-size="5.2" font-weight="bold" font-style="normal" fill="#222" stroke="#222" stroke-width="0.182" text-anchor="middle" >Al</text>
<text x="25.20" y="52.80" font-family="'Liberation Serif','Times New Roman',serif" font-size="5.4" font-weight="bold" font-style="normal" fill="#3a2008" stroke="#3a2008" stroke-width="0.189" text-anchor="middle" >SiO<tspan font-size="65%" dy="0.25em">2</tspan></text>
<text x="25.20" y="59.90" font-family="'Liberation Serif','Times New Roman',serif" font-size="5.4" font-weight="bold" font-style="normal" fill="#111" stroke="#111" stroke-width="0.189" text-anchor="middle" >p<tspan font-size="65%" dy="-0.4em">++</tspan><tspan dy="0.26em">-Si</tspan></text>
<path d="M25.5,39.4L23,29.6" stroke="#1b8fdc" stroke-width="0.5" fill="none"/>
<path d="M22.3,26.6L24.2,29.6L21.6,30.2Z" fill="#1b8fdc"/>
<path d="M25,61V68" stroke="#333" stroke-width="0.5"/>
<circle cx="25" cy="68.6" r="2.0" fill="#000"/>
<text x="10.00" y="76.20" font-family="'Liberation Serif','Times New Roman',serif" font-size="5.5" font-weight="bold" font-style="normal" fill="#222" stroke="#222" stroke-width="0.193" text-anchor="start" xml:space="preserve">V<tspan font-size="68%" dy="0.36em">GS</tspan><tspan dy="-0.245em"> (+ 10 V)</tspan></text>
</g></g>
<text x="496.40" y="37.90" font-family="'Liberation Serif','Times New Roman',serif" font-size="8.4" font-weight="bold" font-style="normal" fill="#000" stroke="#000" stroke-width="0.294" text-anchor="start" xml:space="preserve">V<tspan font-size="68%" dy="0.36em">DS</tspan><tspan dy="-0.245em"> = 10 V</tspan></text>
<g filter="url(#glow)" style="mix-blend-mode:multiply"><path d="M481.50,129.80H501.60" stroke="#ffff7a" stroke-width="5.4" stroke-linecap="round" fill="none"/><path d="M501.60,125.80L510.50,129.80L501.60,133.80Z" fill="#ffff7a" stroke="#ffff7a" stroke-width="4.2" stroke-linejoin="round"/></g>
<path d="M482.30,129.80H502.60" stroke="#000" stroke-width="2.0" fill="none"/>
<path d="M501.60,125.80L510.50,129.80L501.60,133.80Z" fill="#000"/>
<text x="480.20" y="133.00" font-family="'Liberation Serif','Times New Roman',serif" font-size="9.4" font-weight="bold" font-style="normal" fill="#000" stroke="#000" stroke-width="0.329" text-anchor="end" >0 s</text>
<text x="511.60" y="133.00" font-family="'Liberation Serif','Times New Roman',serif" font-size="9.4" font-weight="bold" font-style="normal" fill="#ff1f6e" stroke="#ff1f6e" stroke-width="0.329" text-anchor="start" >7.2 ks</text>
<text x="507.70" y="148.30" font-family="'Liberation Serif','Times New Roman',serif" font-size="8.3" font-weight="bold" font-style="normal" fill="#ff1f6e" stroke="#ff1f6e" stroke-width="0.291" text-anchor="start" >[&#916;V<tspan font-size="68%" dy="0.36em">Th</tspan></text>
<text x="511.60" y="158.10" font-family="'Liberation Serif','Times New Roman',serif" font-size="8.3" font-weight="bold" font-style="normal" fill="#ff1f6e" stroke="#ff1f6e" stroke-width="0.291" text-anchor="start" xml:space="preserve">= 9.8 V]</text>
</g>
<g>
<clipPath id="clipd"><rect x="44.10" y="237.30" width="111.90" height="156.00"/></clipPath>
<g clip-path="url(#clipd)" fill="none" stroke-linejoin="round" stroke-linecap="round">
<path d="M44.50,374.30 C45.28,375.22 47.62,378.35 49.20,379.80 C50.78,381.25 52.48,382.08 54.00,383.00 C55.52,383.92 56.97,384.92 58.30,385.30 C59.63,385.68 60.72,385.58 62.00,385.30 C63.28,385.02 64.78,384.05 66.00,383.60 C67.22,383.15 67.53,382.78 69.30,382.60 C71.07,382.42 73.15,382.47 76.60,382.50 C80.05,382.53 86.30,382.77 90.00,382.80 C93.70,382.83 97.33,382.72 98.80,382.70 L98.90,382.60 C98.97,380.50 99.17,374.43 99.30,370.00 C99.43,365.57 99.53,361.00 99.70,356.00 C99.87,351.00 99.85,346.00 100.30,340.00 C100.75,334.00 101.70,325.83 102.40,320.00 C103.10,314.17 103.43,310.00 104.50,305.00 C105.57,300.00 107.32,294.17 108.80,290.00 C110.28,285.83 111.35,283.33 113.40,280.00 C115.45,276.67 117.42,273.50 121.10,270.00 C124.78,266.50 129.68,262.05 135.50,259.00 C141.32,255.95 152.58,252.92 156.00,251.70" stroke="#000" stroke-width="1.1" fill="none"/>
<path d="M44.50,374.00 C45.28,375.12 47.62,378.78 49.20,380.70 C50.78,382.62 52.48,383.97 54.00,385.50 C55.52,387.03 57.20,388.93 58.30,389.90 C59.40,390.87 59.85,391.25 60.60,391.30 C61.35,391.35 61.97,390.75 62.80,390.20 C63.63,389.65 64.22,388.58 65.60,388.00 C66.98,387.42 69.37,386.88 71.10,386.70 C72.83,386.52 74.32,386.68 76.00,386.90 C77.68,387.12 78.87,387.72 81.20,388.00 C83.53,388.28 85.40,388.47 90.00,388.60 C94.60,388.73 105.67,388.77 108.80,388.80 L108.90,388.50 C108.98,385.42 109.22,375.42 109.40,370.00 C109.58,364.58 109.72,361.00 110.00,356.00 C110.28,351.00 110.63,346.00 111.10,340.00 C111.57,334.00 112.22,325.83 112.80,320.00 C113.38,314.17 113.67,310.00 114.60,305.00 C115.53,300.00 117.08,294.17 118.40,290.00 C119.72,285.83 120.67,283.33 122.50,280.00 C124.33,276.67 126.15,273.33 129.40,270.00 C132.65,266.67 137.57,262.67 142.00,260.00 C146.43,257.33 153.67,255.00 156.00,254.00" stroke="#1f1fd6" stroke-width="1.3" fill="none"/>
<path d="M44.50,376.00 C45.08,377.50 46.62,382.12 48.00,385.00 C49.38,387.88 52.00,391.92 52.80,393.30" stroke="#0a1aff" stroke-width="1.2" fill="none"/>
<path d="M112.70,393.30 C112.72,389.42 112.75,376.22 112.80,370.00 C112.85,363.78 112.70,361.00 113.00,356.00 C113.30,351.00 114.12,346.00 114.60,340.00 C115.08,334.00 115.42,325.83 115.90,320.00 C116.38,314.17 116.55,310.00 117.50,305.00 C118.45,300.00 120.23,294.17 121.60,290.00 C122.97,285.83 123.87,283.33 125.70,280.00 C127.53,276.67 129.47,273.25 132.60,270.00 C135.73,266.75 140.60,262.90 144.50,260.50 C148.40,258.10 154.08,256.42 156.00,255.60" stroke="#0a1aff" stroke-width="1.2" fill="none"/>
<path d="M113.35,393.30 C113.38,389.42 113.42,376.22 113.50,370.00 C113.58,363.78 113.48,361.00 113.80,356.00 C114.12,351.00 114.90,346.00 115.40,340.00 C115.90,334.00 116.26,325.83 116.80,320.00 C117.34,314.17 117.68,310.00 118.65,305.00 C119.62,300.00 121.28,294.17 122.65,290.00 C124.02,285.83 125.00,283.33 126.85,280.00 C128.70,276.67 130.68,273.21 133.75,270.00 C136.82,266.79 141.54,263.06 145.25,260.75 C148.96,258.44 154.21,256.92 156.00,256.15" stroke="#00a5c8" stroke-width="1.1" fill="none"/>
<path d="M114.00,393.30 C114.03,389.42 114.10,376.22 114.20,370.00 C114.30,363.78 114.27,361.00 114.60,356.00 C114.93,351.00 115.68,346.00 116.20,340.00 C116.72,334.00 117.10,325.83 117.70,320.00 C118.30,314.17 118.80,310.00 119.80,305.00 C120.80,300.00 122.33,294.17 123.70,290.00 C125.07,285.83 126.13,283.33 128.00,280.00 C129.87,276.67 131.90,273.17 134.90,270.00 C137.90,266.83 142.48,263.22 146.00,261.00 C149.52,258.78 154.33,257.42 156.00,256.70" stroke="#ff00ff" stroke-width="1.5" fill="none"/>
<path d="M44.70,357.00 C44.72,360.00 44.43,370.13 44.80,375.00 C45.17,379.87 45.87,383.15 46.90,386.20 C47.93,389.25 50.32,392.12 51.00,393.30" stroke="#ff00ff" stroke-width="1.5" fill="none"/>
<path d="M59.00,393.00 L62.50,392.50" stroke="#ff00ff" stroke-width="1.6" fill="none"/>
<path d="M70.50,393.20 C70.75,393.00 71.50,392.00 72.00,392.00 C72.50,392.00 73.25,393.00 73.50,393.20" stroke="#0a1aff" stroke-width="1.0" fill="none"/>
</g>
<rect x="44.10" y="237.30" width="111.90" height="156.00" fill="none" stroke="#1e1e1e" stroke-width="1.2"/>
<path d="M44.10,393.30v-1.8 M58.09,393.30v-1.8 M72.08,393.30v-1.8 M86.06,393.30v-1.8 M100.05,393.30v-1.8 M114.04,393.30v-1.8 M128.03,393.30v-1.8 M142.01,393.30v-1.8 M156.00,393.30v-1.8 M51.09,393.30v-1 M65.08,393.30v-1 M79.07,393.30v-1 M93.06,393.30v-1 M107.04,393.30v-1 M121.03,393.30v-1 M135.02,393.30v-1 M149.01,393.30v-1 M44.10,393.30h2 M44.10,375.30h2 M44.10,357.30h2 M44.10,339.30h2 M44.10,321.30h2 M44.10,303.30h2 M44.10,285.30h2 M44.10,267.30h2 M44.10,249.30h2" stroke="#2a2a2a" stroke-width="0.9" fill="none"/>
<text transform="translate(43.50,403.50) scale(1.02,1.13)" font-family="'Liberation Sans',Arial,sans-serif" font-size="9.00" font-weight="bold" fill="#000" stroke="#000" stroke-width="0.28" text-anchor="middle">-40</text>
<text transform="translate(57.49,403.50) scale(1.02,1.13)" font-family="'Liberation Sans',Arial,sans-serif" font-size="9.00" font-weight="bold" fill="#000" stroke="#000" stroke-width="0.28" text-anchor="middle">-30</text>
<text transform="translate(71.48,403.50) scale(1.02,1.13)" font-family="'Liberation Sans',Arial,sans-serif" font-size="9.00" font-weight="bold" fill="#000" stroke="#000" stroke-width="0.28" text-anchor="middle">-20</text>
<text transform="translate(85.46,403.50) scale(1.02,1.13)" font-family="'Liberation Sans',Arial,sans-serif" font-size="9.00" font-weight="bold" fill="#000" stroke="#000" stroke-width="0.28" text-anchor="middle">-10</text>
<text transform="translate(99.45,403.50) scale(1.02,1.13)" font-family="'Liberation Sans',Arial,sans-serif" font-size="9.00" font-weight="bold" fill="#000" stroke="#000" stroke-width="0.28" text-anchor="middle">0</text>
<text transform="translate(113.44,403.50) scale(1.02,1.13)" font-family="'Liberation Sans',Arial,sans-serif" font-size="9.00" font-weight="bold" fill="#000" stroke="#000" stroke-width="0.28" text-anchor="middle">10</text>
<text transform="translate(127.43,403.50) scale(1.02,1.13)" font-family="'Liberation Sans',Arial,sans-serif" font-size="9.00" font-weight="bold" fill="#000" stroke="#000" stroke-width="0.28" text-anchor="middle">20</text>
<text transform="translate(141.41,403.50) scale(1.02,1.13)" font-family="'Liberation Sans',Arial,sans-serif" font-size="9.00" font-weight="bold" fill="#000" stroke="#000" stroke-width="0.28" text-anchor="middle">30</text>
<text transform="translate(155.40,403.50) scale(1.02,1.13)" font-family="'Liberation Sans',Arial,sans-serif" font-size="9.00" font-weight="bold" fill="#000" stroke="#000" stroke-width="0.28" text-anchor="middle">40</text>
<text transform="translate(31.60,397.20) scale(0.97,1.09)" font-family="'Liberation Sans',Arial,sans-serif" font-size="9.00" font-weight="bold" fill="#000" stroke="#000" stroke-width="0.28" text-anchor="end">10</text>
<text transform="translate(41.70,393.10) scale(0.97,1.0)" font-family="'Liberation Sans',Arial,sans-serif" font-size="6.30" font-weight="bold" fill="#000" stroke="#000" stroke-width="0.28" text-anchor="end">-12</text>
<text transform="translate(31.60,379.20) scale(0.97,1.09)" font-family="'Liberation Sans',Arial,sans-serif" font-size="9.00" font-weight="bold" fill="#000" stroke="#000" stroke-width="0.28" text-anchor="end">10</text>
<text transform="translate(41.70,375.10) scale(0.97,1.0)" font-family="'Liberation Sans',Arial,sans-serif" font-size="6.30" font-weight="bold" fill="#000" stroke="#000" stroke-width="0.28" text-anchor="end">-11</text>
<text transform="translate(31.60,361.20) scale(0.97,1.09)" font-family="'Liberation Sans',Arial,sans-serif" font-size="9.00" font-weight="bold" fill="#000" stroke="#000" stroke-width="0.28" text-anchor="end">10</text>
<text transform="translate(41.70,357.10) scale(0.97,1.0)" font-family="'Liberation Sans',Arial,sans-serif" font-size="6.30" font-weight="bold" fill="#000" stroke="#000" stroke-width="0.28" text-anchor="end">-10</text>
<text transform="translate(34.80,343.20) scale(0.97,1.09)" font-family="'Liberation Sans',Arial,sans-serif" font-size="9.00" font-weight="bold" fill="#000" stroke="#000" stroke-width="0.28" text-anchor="end">10</text>
<text transform="translate(41.70,339.10) scale(0.97,1.0)" font-family="'Liberation Sans',Arial,sans-serif" font-size="6.30" font-weight="bold" fill="#000" stroke="#000" stroke-width="0.28" text-anchor="end">-9</text>
<text transform="translate(34.80,325.20) scale(0.97,1.09)" font-family="'Liberation Sans',Arial,sans-serif" font-size="9.00" font-weight="bold" fill="#000" stroke="#000" stroke-width="0.28" text-anchor="end">10</text>
<text transform="translate(41.70,321.10) scale(0.97,1.0)" font-family="'Liberation Sans',Arial,sans-serif" font-size="6.30" font-weight="bold" fill="#000" stroke="#000" stroke-width="0.28" text-anchor="end">-8</text>
<text transform="translate(34.80,307.20) scale(0.97,1.09)" font-family="'Liberation Sans',Arial,sans-serif" font-size="9.00" font-weight="bold" fill="#000" stroke="#000" stroke-width="0.28" text-anchor="end">10</text>
<text transform="translate(41.70,303.10) scale(0.97,1.0)" font-family="'Liberation Sans',Arial,sans-serif" font-size="6.30" font-weight="bold" fill="#000" stroke="#000" stroke-width="0.28" text-anchor="end">-7</text>
<text transform="translate(34.80,289.20) scale(0.97,1.09)" font-family="'Liberation Sans',Arial,sans-serif" font-size="9.00" font-weight="bold" fill="#000" stroke="#000" stroke-width="0.28" text-anchor="end">10</text>
<text transform="translate(41.70,285.10) scale(0.97,1.0)" font-family="'Liberation Sans',Arial,sans-serif" font-size="6.30" font-weight="bold" fill="#000" stroke="#000" stroke-width="0.28" text-anchor="end">-6</text>
<text transform="translate(34.80,271.20) scale(0.97,1.09)" font-family="'Liberation Sans',Arial,sans-serif" font-size="9.00" font-weight="bold" fill="#000" stroke="#000" stroke-width="0.28" text-anchor="end">10</text>
<text transform="translate(41.70,267.10) scale(0.97,1.0)" font-family="'Liberation Sans',Arial,sans-serif" font-size="6.30" font-weight="bold" fill="#000" stroke="#000" stroke-width="0.28" text-anchor="end">-5</text>
<text transform="translate(34.80,253.20) scale(0.97,1.09)" font-family="'Liberation Sans',Arial,sans-serif" font-size="9.00" font-weight="bold" fill="#000" stroke="#000" stroke-width="0.28" text-anchor="end">10</text>
<text transform="translate(41.70,249.10) scale(0.97,1.0)" font-family="'Liberation Sans',Arial,sans-serif" font-size="6.30" font-weight="bold" fill="#000" stroke="#000" stroke-width="0.28" text-anchor="end">-4</text>
<text x="101.95" y="416.60" font-family="'Liberation Serif','Times New Roman',serif" font-size="11.4" font-weight="bold" font-style="normal" fill="#000" stroke="#000" stroke-width="0.399" text-anchor="middle" xml:space="preserve">V<tspan font-size="64%" dy="0.3em">GS</tspan><tspan dy="-0.192em"> (V)</tspan></text>
<text transform="translate(16.40,313.30) rotate(-90)" font-family="'Liberation Serif','Times New Roman',serif" font-size="13.4" font-weight="bold" stroke="#000" stroke-width="0.3" text-anchor="middle" xml:space="preserve">I<tspan font-size="68%" dy="0.4em">DS</tspan><tspan dy="-0.272em"> (A)</tspan></text>
<text transform="translate(3.00,230.60) scale(1.1,1)" font-family="'Liberation Serif','Times New Roman',serif" font-size="15.2" font-weight="bold" fill="#000" stroke="#000" stroke-width="0.25">(d)</text>
<g transform="translate(44.10,237.30)">
<text x="5.80" y="12.00" font-family="'Liberation Serif','Times New Roman',serif" font-size="9.8" font-weight="bold" font-style="italic" fill="#000" stroke="#000" stroke-width="0.343" text-anchor="start" >PBS test</text>
<path d="M5.60,13.00h34" stroke="#222" stroke-width="0.8"/>
<text x="3.70" y="24.40" font-family="'Liberation Serif','Times New Roman',serif" font-size="7.1" font-weight="bold" font-style="normal" fill="#1b8fdc" stroke="#1b8fdc" stroke-width="0.248" text-anchor="start" >InZnO (6:4)</text>
<g transform="translate(0.40,1.20)">
<rect x="6.9" y="31.2" width="10.8" height="15.6" fill="#d9d9d9"/>
<rect x="32" y="31.2" width="10.9" height="15.6" fill="#d9d9d9"/>
<rect x="13.1" y="39.4" width="23.1" height="7.4" fill="#1b8fdc"/>
<rect x="3.9" y="46.7" width="41.9" height="8.6" fill="#f9a870"/>
<rect x="4.6" y="55.2" width="40.6" height="5.9" fill="#7d7d7d"/>
<text x="12.10" y="38.20" font-family="'Liberation Serif','Times New Roman',serif" font-size="5.2" font-weight="bold" font-style="normal" fill="#222" stroke="#222" stroke-width="0.182" text-anchor="middle" >Al</text>
<text x="37.20" y="38.20" font-family="'Liberation Serif','Times New Roman',serif" font-size="5.2" font-weight="bold" font-style="normal" fill="#222" stroke="#222" stroke-width="0.182" text-anchor="middle" >Al</text>
<text x="25.20" y="52.80" font-family="'Liberation Serif','Times New Roman',serif" font-size="5.4" font-weight="bold" font-style="normal" fill="#3a2008" stroke="#3a2008" stroke-width="0.189" text-anchor="middle" >SiO<tspan font-size="65%" dy="0.25em">2</tspan></text>
<text x="25.20" y="59.90" font-family="'Liberation Serif','Times New Roman',serif" font-size="5.4" font-weight="bold" font-style="normal" fill="#111" stroke="#111" stroke-width="0.189" text-anchor="middle" >p<tspan font-size="65%" dy="-0.4em">++</tspan><tspan dy="0.26em">-Si</tspan></text>
<path d="M25.5,39.4L23,29.6" stroke="#1b8fdc" stroke-width="0.5" fill="none"/>
<path d="M22.3,26.6L24.2,29.6L21.6,30.2Z" fill="#1b8fdc"/>
<path d="M25,61V68" stroke="#333" stroke-width="0.5"/>
<circle cx="25" cy="68.6" r="2.0" fill="#000"/>
<text x="10.00" y="76.20" font-family="'Liberation Serif','Times New Roman',serif" font-size="5.5" font-weight="bold" font-style="normal" fill="#222" stroke="#222" stroke-width="0.193" text-anchor="start" xml:space="preserve">V<tspan font-size="68%" dy="0.36em">GS</tspan><tspan dy="-0.245em"> (+ 10 V)</tspan></text>
</g></g>
<text x="109.80" y="247.30" font-family="'Liberation Serif','Times New Roman',serif" font-size="8.4" font-weight="bold" font-style="normal" fill="#000" stroke="#000" stroke-width="0.294" text-anchor="start" xml:space="preserve">V<tspan font-size="68%" dy="0.36em">DS</tspan><tspan dy="-0.245em"> = 10 V</tspan></text>
<g filter="url(#glow)" style="mix-blend-mode:multiply"><path d="M98.90,338.40H119.00" stroke="#ffff7a" stroke-width="5.4" stroke-linecap="round" fill="none"/><path d="M119.00,334.40L127.90,338.40L119.00,342.40Z" fill="#ffff7a" stroke="#ffff7a" stroke-width="4.2" stroke-linejoin="round"/></g>
<path d="M99.70,338.40H120.00" stroke="#000" stroke-width="2.0" fill="none"/>
<path d="M119.00,334.40L127.90,338.40L119.00,342.40Z" fill="#000"/>
<text x="97.00" y="341.30" font-family="'Liberation Serif','Times New Roman',serif" font-size="9.4" font-weight="bold" font-style="normal" fill="#000" stroke="#000" stroke-width="0.329" text-anchor="end" >0 s</text>
<text x="128.90" y="341.60" font-family="'Liberation Serif','Times New Roman',serif" font-size="9.4" font-weight="bold" font-style="normal" fill="#ff1f6e" stroke="#ff1f6e" stroke-width="0.329" text-anchor="start" >7.2 ks</text>
<text x="123.30" y="352.80" font-family="'Liberation Serif','Times New Roman',serif" font-size="8.3" font-weight="bold" font-style="normal" fill="#ff1f6e" stroke="#ff1f6e" stroke-width="0.291" text-anchor="start" >[&#916;V<tspan font-size="68%" dy="0.36em">Th</tspan></text>
<text x="125.10" y="363.20" font-family="'Liberation Serif','Times New Roman',serif" font-size="8.3" font-weight="bold" font-style="normal" fill="#ff1f6e" stroke="#ff1f6e" stroke-width="0.291" text-anchor="start" xml:space="preserve">= 9.2 V]</text>
</g>
<g>
<clipPath id="clipe"><rect x="237.60" y="237.50" width="111.40" height="155.80"/></clipPath>
<g clip-path="url(#clipe)" fill="none" stroke-linejoin="round" stroke-linecap="round">
<path d="M238.00,321.00 C243.33,321.00 261.10,321.02 270.00,321.00 C278.90,320.98 287.83,320.92 291.40,320.90 L292.92,318.00 C293.58,315.00 295.62,304.67 296.90,300.00 C298.18,295.33 299.30,293.33 300.60,290.00 C301.90,286.67 302.88,283.17 304.70,280.00 C306.52,276.83 308.87,273.75 311.50,271.00 C314.13,268.25 316.93,265.80 320.50,263.50 C324.07,261.20 328.15,259.05 332.90,257.20 C337.65,255.35 346.32,253.20 349.00,252.40" stroke="#000" stroke-width="1.3" fill="none"/>
<path d="M238.20,327.80 C238.83,327.53 240.42,326.67 242.00,326.20 C243.58,325.73 244.70,325.37 247.70,325.00 C250.70,324.63 253.95,324.23 260.00,324.00 C266.05,323.77 278.97,323.67 284.00,323.60 C289.03,323.53 288.83,323.80 290.20,323.60 C291.57,323.40 291.73,322.93 292.20,322.40 C292.67,321.87 292.87,320.73 293.00,320.40 L293.98,317.00 C294.59,314.17 296.42,304.50 297.64,300.00 C298.86,295.50 300.03,293.33 301.33,290.00 C302.63,286.67 303.64,283.14 305.44,280.00 C307.24,276.86 309.55,273.86 312.15,271.15 C314.75,268.44 317.53,266.03 321.05,263.75 C324.57,261.47 328.60,259.33 333.26,257.48 C337.92,255.63 346.38,253.46 349.00,252.65" stroke="#1f1fd6" stroke-width="1.2" fill="none"/>
<path d="M238.30,358.70 C238.42,359.70 238.55,364.15 239.00,364.70 C239.45,365.25 240.17,363.15 241.00,362.00 C241.83,360.85 242.90,359.17 244.00,357.80 C245.10,356.43 246.22,355.07 247.60,353.80 C248.98,352.53 250.77,351.20 252.30,350.20 C253.83,349.20 255.27,348.48 256.80,347.80 C258.33,347.12 259.20,346.83 261.50,346.10 C263.80,345.37 266.85,344.17 270.60,343.40 C274.35,342.63 280.67,341.92 284.00,341.50 C287.33,341.08 289.17,341.22 290.60,340.90 C292.03,340.58 292.27,339.82 292.60,339.60 L294.54,337.00 C294.55,334.00 293.91,325.17 294.57,319.00 C295.23,312.83 297.26,304.83 298.53,300.00 C299.80,295.17 300.91,293.33 302.21,290.00 C303.51,286.67 304.54,283.11 306.33,280.00 C308.12,276.89 310.37,273.99 312.93,271.33 C315.49,268.67 318.25,266.30 321.71,264.05 C325.17,261.80 329.14,259.67 333.69,257.82 C338.24,255.97 346.45,253.76 349.00,252.95" stroke="#0a1aff" stroke-width="1.3" fill="none"/>
<path d="M293.60,318.00 C294.25,315.00 296.23,304.67 297.49,300.00 C298.76,295.33 299.88,293.33 301.18,290.00 C302.48,286.67 303.49,283.15 305.29,280.00 C307.10,276.85 309.41,273.84 312.02,271.12 C314.63,268.40 317.41,265.98 320.94,263.70 C324.47,261.42 328.51,259.27 333.19,257.42 C337.86,255.57 346.36,253.40 349.00,252.60" stroke="#0a1aff" stroke-width="1.5" fill="none"/>
<path d="M294.09,330.00 C294.09,328.17 293.39,324.00 294.06,319.00 C294.73,314.00 296.80,304.83 298.08,300.00 C299.37,295.17 300.47,293.33 301.77,290.00 C303.07,286.67 304.09,283.13 305.88,280.00 C307.68,276.87 309.96,273.92 312.54,271.24 C315.12,268.56 317.89,266.17 321.38,263.90 C324.87,261.63 328.87,259.50 333.48,257.65 C338.08,255.80 346.41,253.61 349.00,252.80" stroke="#0a1aff" stroke-width="1.5" fill="none"/>
<path d="M295.03,345.00 C295.05,344.17 295.06,344.33 295.10,340.00 C295.14,335.67 294.58,325.67 295.25,319.00 C295.92,312.33 297.86,304.83 299.12,300.00 C300.38,295.17 301.49,293.33 302.79,290.00 C304.09,286.67 305.14,283.09 306.92,280.00 C308.70,276.91 310.91,274.07 313.45,271.45 C315.99,268.82 318.73,266.49 322.15,264.25 C325.57,262.01 329.50,259.89 333.98,258.04 C338.45,256.19 346.50,253.97 349.00,253.15" stroke="#0a1aff" stroke-width="1.5" fill="none"/>
<path d="M245.00,383.50 C246.22,382.20 249.55,378.38 252.30,375.70 C255.05,373.02 258.45,369.68 261.50,367.40 C264.55,365.12 267.55,363.45 270.60,362.00 C273.65,360.55 276.62,359.77 279.80,358.70 C282.98,357.63 287.60,356.28 289.70,355.60 C291.80,354.92 291.95,354.77 292.40,354.60 L295.29,353.00 C295.33,350.83 295.44,345.67 295.52,340.00 C295.60,334.33 295.09,325.67 295.76,319.00 C296.43,312.33 298.32,304.83 299.56,300.00 C300.81,295.17 301.93,293.33 303.23,290.00 C304.53,286.67 305.60,283.08 307.36,280.00 C309.13,276.92 311.32,274.14 313.84,271.54 C316.36,268.94 319.09,266.62 322.48,264.40 C325.87,262.18 329.78,260.06 334.20,258.21 C338.62,256.36 346.53,254.12 349.00,253.30" stroke="#1a8cff" stroke-width="1.3" fill="none"/>
<path d="M279.50,358.70 L279.50,375.20" stroke="#1a8cff" stroke-width="1.2" fill="none"/>
<path d="M256.90,386.70 C259.18,385.32 266.78,380.53 270.60,378.40 C274.42,376.27 276.03,375.77 279.80,373.90 C283.57,372.03 290.97,368.32 293.20,367.20 L295.76,366.00 C295.78,364.83 295.74,363.33 295.84,359.00 C295.94,354.67 296.20,346.67 296.36,340.00 C296.52,333.33 296.10,325.67 296.78,319.00 C297.46,312.33 299.23,304.83 300.45,300.00 C301.67,295.17 302.80,293.33 304.10,290.00 C305.40,286.67 306.50,283.05 308.25,280.00 C310.00,276.95 312.14,274.27 314.62,271.72 C317.10,269.17 319.81,266.90 323.14,264.70 C326.47,262.50 330.32,260.39 334.63,258.54 C338.94,256.69 346.60,254.42 349.00,253.60" stroke="#0e6fc0" stroke-width="1.3" fill="none"/>
<path d="M268.00,387.20 C269.20,386.88 272.53,386.07 275.20,385.30 C277.87,384.53 280.93,383.62 284.00,382.60 C287.07,381.58 292.00,379.77 293.60,379.20 L296.12,378.00 C296.17,374.83 296.23,365.33 296.39,359.00 C296.55,352.67 296.85,346.67 297.06,340.00 C297.27,333.33 296.94,325.67 297.63,319.00 C298.32,312.33 299.99,304.83 301.19,300.00 C302.39,295.17 303.53,293.33 304.83,290.00 C306.13,286.67 307.25,283.02 308.99,280.00 C310.73,276.98 312.82,274.38 315.27,271.87 C317.72,269.36 320.40,267.12 323.69,264.95 C326.98,262.78 330.77,260.67 334.99,258.82 C339.21,256.97 346.66,254.68 349.00,253.85" stroke="#00e8f0" stroke-width="1.3" fill="none"/>
<path d="M296.32,384.00 C296.39,379.83 296.53,366.33 296.72,359.00 C296.91,351.67 297.24,346.67 297.48,340.00 C297.72,333.33 297.45,325.67 298.14,319.00 C298.83,312.33 300.45,304.83 301.64,300.00 C302.82,295.17 303.97,293.33 305.27,290.00 C306.57,286.67 307.70,283.01 309.44,280.00 C311.17,276.99 313.23,274.44 315.66,271.96 C318.09,269.48 320.76,267.26 324.02,265.10 C327.28,262.94 331.04,260.84 335.20,258.99 C339.37,257.14 346.70,254.83 349.00,254.00" stroke="#00a5c8" stroke-width="1.4" fill="none"/>
<path d="M296.57,386.00 C296.65,381.50 296.83,366.67 297.05,359.00 C297.27,351.33 297.63,346.67 297.90,340.00 C298.17,333.33 297.95,325.67 298.65,319.00 C299.35,312.33 300.90,304.83 302.08,300.00 C303.26,295.17 304.41,293.33 305.71,290.00 C307.01,286.67 308.16,282.99 309.88,280.00 C311.60,277.01 313.64,274.51 316.05,272.05 C318.46,269.59 321.12,267.40 324.35,265.25 C327.58,263.10 331.31,261.01 335.42,259.16 C339.53,257.31 346.74,254.99 349.00,254.15" stroke="#00c21a" stroke-width="1.5" fill="none"/>
<path d="M297.47,387.70 C297.58,382.92 297.85,366.95 298.15,359.00 C298.45,351.05 298.93,346.67 299.30,340.00 C299.67,333.33 299.64,325.67 300.35,319.00 C301.06,312.33 302.42,304.83 303.56,300.00 C304.70,295.17 305.87,293.33 307.17,290.00 C308.47,286.67 309.66,282.94 311.36,280.00 C313.06,277.06 315.00,274.73 317.35,272.35 C319.70,269.98 322.32,267.86 325.45,265.75 C328.58,263.64 332.21,261.57 336.14,259.72 C340.06,257.87 346.86,255.50 349.00,254.65" stroke="#ff00ff" stroke-width="1.5" fill="none"/>
<path d="M238.20,372.00 C238.33,373.50 238.53,378.75 239.00,381.00 C239.47,383.25 239.83,384.27 241.00,385.50 C242.17,386.73 243.67,387.77 246.00,388.40 C248.33,389.03 251.00,389.13 255.00,389.30 C259.00,389.47 264.17,389.42 270.00,389.40 C275.83,389.38 286.67,389.23 290.00,389.20" stroke="#000" stroke-width="1.0" fill="none"/>
<path d="M238.40,365.00 C238.58,367.57 238.70,377.02 239.50,380.40 C240.30,383.78 241.07,383.98 243.20,385.30 C245.33,386.62 249.25,387.63 252.30,388.30 C255.35,388.97 257.68,389.12 261.50,389.30 C265.32,389.48 269.78,389.45 275.20,389.40 C280.62,389.35 290.87,389.07 294.00,389.00" stroke="#00a5c8" stroke-width="1.3" fill="none"/>
<path d="M238.40,365.00 C238.58,367.47 238.70,376.53 239.50,379.80 C240.30,383.07 241.07,383.28 243.20,384.60 C245.33,385.92 249.25,387.00 252.30,387.70 C255.35,388.40 257.68,388.70 261.50,388.80 C265.32,388.90 271.45,388.60 275.20,388.30 C278.95,388.00 280.38,387.35 284.00,387.00 C287.62,386.65 294.79,386.33 296.94,386.20 L296.94,386.20 C297.04,381.67 297.24,366.70 297.49,359.00 C297.74,351.30 298.15,346.67 298.46,340.00 C298.77,333.33 298.63,325.67 299.33,319.00 C300.03,312.33 301.51,304.83 302.67,300.00 C303.83,295.17 304.99,293.33 306.29,290.00 C307.59,286.67 308.76,282.97 310.47,280.00 C312.18,277.03 314.18,274.60 316.57,272.17 C318.96,269.75 321.60,267.58 324.79,265.45 C327.98,263.32 331.67,261.23 335.71,259.38 C339.74,257.53 346.78,255.19 349.00,254.35" stroke="#00c21a" stroke-width="1.6" fill="none"/>
<path d="M238.30,360.60 C238.35,362.17 238.40,366.95 238.60,370.00 C238.80,373.05 238.73,376.65 239.50,378.90 C240.27,381.15 241.07,382.20 243.20,383.50 C245.33,384.80 249.25,385.95 252.30,386.70 C255.35,387.45 257.68,387.72 261.50,388.00 C265.32,388.28 271.45,388.38 275.20,388.40 C278.95,388.42 280.21,388.22 284.00,388.10 C287.79,387.98 295.61,387.77 297.93,387.70 L297.93,387.70 C298.06,382.92 298.36,366.95 298.70,359.00 C299.04,351.05 299.58,346.67 300.00,340.00 C300.42,333.33 300.48,325.67 301.20,319.00 C301.92,312.33 303.18,304.83 304.30,300.00 C305.42,295.17 306.60,293.33 307.90,290.00 C309.20,286.67 310.42,282.92 312.10,280.00 C313.78,277.08 315.68,274.83 318.00,272.50 C320.32,270.17 322.92,268.08 326.00,266.00 C329.08,263.92 332.67,261.85 336.50,260.00 C340.33,258.15 346.92,255.75 349.00,254.90" stroke="#ff00ff" stroke-width="1.7" fill="none"/>
</g>
<rect x="237.60" y="237.50" width="111.40" height="155.80" fill="none" stroke="#1e1e1e" stroke-width="1.2"/>
<path d="M237.60,393.30v-1.8 M251.53,393.30v-1.8 M265.45,393.30v-1.8 M279.38,393.30v-1.8 M293.30,393.30v-1.8 M307.23,393.30v-1.8 M321.15,393.30v-1.8 M335.07,393.30v-1.8 M349.00,393.30v-1.8 M244.56,393.30v-1 M258.49,393.30v-1 M272.41,393.30v-1 M286.34,393.30v-1 M300.26,393.30v-1 M314.19,393.30v-1 M328.11,393.30v-1 M342.04,393.30v-1 M237.60,393.30h2 M237.60,375.30h2 M237.60,357.30h2 M237.60,339.30h2 M237.60,321.30h2 M237.60,303.30h2 M237.60,285.30h2 M237.60,267.30h2 M237.60,249.30h2" stroke="#2a2a2a" stroke-width="0.9" fill="none"/>
<text transform="translate(237.00,403.50) scale(1.02,1.13)" font-family="'Liberation Sans',Arial,sans-serif" font-size="9.00" font-weight="bold" fill="#000" stroke="#000" stroke-width="0.28" text-anchor="middle">-40</text>
<text transform="translate(250.93,403.50) scale(1.02,1.13)" font-family="'Liberation Sans',Arial,sans-serif" font-size="9.00" font-weight="bold" fill="#000" stroke="#000" stroke-width="0.28" text-anchor="middle">-30</text>
<text transform="translate(264.85,403.50) scale(1.02,1.13)" font-family="'Liberation Sans',Arial,sans-serif" font-size="9.00" font-weight="bold" fill="#000" stroke="#000" stroke-width="0.28" text-anchor="middle">-20</text>
<text transform="translate(278.77,403.50) scale(1.02,1.13)" font-family="'Liberation Sans',Arial,sans-serif" font-size="9.00" font-weight="bold" fill="#000" stroke="#000" stroke-width="0.28" text-anchor="middle">-10</text>
<text transform="translate(292.70,403.50) scale(1.02,1.13)" font-family="'Liberation Sans',Arial,sans-serif" font-size="9.00" font-weight="bold" fill="#000" stroke="#000" stroke-width="0.28" text-anchor="middle">0</text>
<text transform="translate(306.62,403.50) scale(1.02,1.13)" font-family="'Liberation Sans',Arial,sans-serif" font-size="9.00" font-weight="bold" fill="#000" stroke="#000" stroke-width="0.28" text-anchor="middle">10</text>
<text transform="translate(320.55,403.50) scale(1.02,1.13)" font-family="'Liberation Sans',Arial,sans-serif" font-size="9.00" font-weight="bold" fill="#000" stroke="#000" stroke-width="0.28" text-anchor="middle">20</text>
<text transform="translate(334.47,403.50) scale(1.02,1.13)" font-family="'Liberation Sans',Arial,sans-serif" font-size="9.00" font-weight="bold" fill="#000" stroke="#000" stroke-width="0.28" text-anchor="middle">30</text>
<text transform="translate(348.40,403.50) scale(1.02,1.13)" font-family="'Liberation Sans',Arial,sans-serif" font-size="9.00" font-weight="bold" fill="#000" stroke="#000" stroke-width="0.28" text-anchor="middle">40</text>
<text transform="translate(225.10,397.20) scale(0.97,1.09)" font-family="'Liberation Sans',Arial,sans-serif" font-size="9.00" font-weight="bold" fill="#000" stroke="#000" stroke-width="0.28" text-anchor="end">10</text>
<text transform="translate(235.20,393.10) scale(0.97,1.0)" font-family="'Liberation Sans',Arial,sans-serif" font-size="6.30" font-weight="bold" fill="#000" stroke="#000" stroke-width="0.28" text-anchor="end">-12</text>
<text transform="translate(225.10,379.20) scale(0.97,1.09)" font-family="'Liberation Sans',Arial,sans-serif" font-size="9.00" font-weight="bold" fill="#000" stroke="#000" stroke-width="0.28" text-anchor="end">10</text>
<text transform="translate(235.20,375.10) scale(0.97,1.0)" font-family="'Liberation Sans',Arial,sans-serif" font-size="6.30" font-weight="bold" fill="#000" stroke="#000" stroke-width="0.28" text-anchor="end">-11</text>
<text transform="translate(225.10,361.20) scale(0.97,1.09)" font-family="'Liberation Sans',Arial,sans-serif" font-size="9.00" font-weight="bold" fill="#000" stroke="#000" stroke-width="0.28" text-anchor="end">10</text>
<text transform="translate(235.20,357.10) scale(0.97,1.0)" font-family="'Liberation Sans',Arial,sans-serif" font-size="6.30" font-weight="bold" fill="#000" stroke="#000" stroke-width="0.28" text-anchor="end">-10</text>
<text transform="translate(228.30,343.20) scale(0.97,1.09)" font-family="'Liberation Sans',Arial,sans-serif" font-size="9.00" font-weight="bold" fill="#000" stroke="#000" stroke-width="0.28" text-anchor="end">10</text>
<text transform="translate(235.20,339.10) scale(0.97,1.0)" font-family="'Liberation Sans',Arial,sans-serif" font-size="6.30" font-weight="bold" fill="#000" stroke="#000" stroke-width="0.28" text-anchor="end">-9</text>
<text transform="translate(228.30,325.20) scale(0.97,1.09)" font-family="'Liberation Sans',Arial,sans-serif" font-size="9.00" font-weight="bold" fill="#000" stroke="#000" stroke-width="0.28" text-anchor="end">10</text>
<text transform="translate(235.20,321.10) scale(0.97,1.0)" font-family="'Liberation Sans',Arial,sans-serif" font-size="6.30" font-weight="bold" fill="#000" stroke="#000" stroke-width="0.28" text-anchor="end">-8</text>
<text transform="translate(228.30,307.20) scale(0.97,1.09)" font-family="'Liberation Sans',Arial,sans-serif" font-size="9.00" font-weight="bold" fill="#000" stroke="#000" stroke-width="0.28" text-anchor="end">10</text>
<text transform="translate(235.20,303.10) scale(0.97,1.0)" font-family="'Liberation Sans',Arial,sans-serif" font-size="6.30" font-weight="bold" fill="#000" stroke="#000" stroke-width="0.28" text-anchor="end">-7</text>
<text transform="translate(228.30,289.20) scale(0.97,1.09)" font-family="'Liberation Sans',Arial,sans-serif" font-size="9.00" font-weight="bold" fill="#000" stroke="#000" stroke-width="0.28" text-anchor="end">10</text>
<text transform="translate(235.20,285.10) scale(0.97,1.0)" font-family="'Liberation Sans',Arial,sans-serif" font-size="6.30" font-weight="bold" fill="#000" stroke="#000" stroke-width="0.28" text-anchor="end">-6</text>
<text transform="translate(228.30,271.20) scale(0.97,1.09)" font-family="'Liberation Sans',Arial,sans-serif" font-size="9.00" font-weight="bold" fill="#000" stroke="#000" stroke-width="0.28" text-anchor="end">10</text>
<text transform="translate(235.20,267.10) scale(0.97,1.0)" font-family="'Liberation Sans',Arial,sans-serif" font-size="6.30" font-weight="bold" fill="#000" stroke="#000" stroke-width="0.28" text-anchor="end">-5</text>
<text transform="translate(228.30,253.20) scale(0.97,1.09)" font-family="'Liberation Sans',Arial,sans-serif" font-size="9.00" font-weight="bold" fill="#000" stroke="#000" stroke-width="0.28" text-anchor="end">10</text>
<text transform="translate(235.20,249.10) scale(0.97,1.0)" font-family="'Liberation Sans',Arial,sans-serif" font-size="6.30" font-weight="bold" fill="#000" stroke="#000" stroke-width="0.28" text-anchor="end">-4</text>
<text x="295.70" y="418.90" font-family="'Liberation Serif','Times New Roman',serif" font-size="11.4" font-weight="bold" font-style="normal" fill="#000" stroke="#000" stroke-width="0.399" text-anchor="middle" xml:space="preserve">V<tspan font-size="64%" dy="0.3em">GS</tspan><tspan dy="-0.192em"> (V)</tspan></text>
<text transform="translate(210.40,315.70) rotate(-90)" font-family="'Liberation Serif','Times New Roman',serif" font-size="13.4" font-weight="bold" stroke="#000" stroke-width="0.3" text-anchor="middle" xml:space="preserve">I<tspan font-size="68%" dy="0.4em">DS</tspan><tspan dy="-0.272em"> (A)</tspan></text>
<text transform="translate(194.40,230.60) scale(1.1,1)" font-family="'Liberation Serif','Times New Roman',serif" font-size="15.2" font-weight="bold" fill="#000" stroke="#000" stroke-width="0.25">(e)</text>
<g transform="translate(237.60,237.50)">
<text x="6.40" y="11.00" font-family="'Liberation Serif','Times New Roman',serif" font-size="9.8" font-weight="bold" font-style="italic" fill="#000" stroke="#000" stroke-width="0.343" text-anchor="start" >PBS test</text>
<path d="M6.20,12.00h34" stroke="#222" stroke-width="0.8"/>
<text x="4.90" y="21.80" font-family="'Liberation Serif','Times New Roman',serif" font-size="7.1" font-weight="bold" font-style="normal" fill="#1b8fdc" stroke="#1b8fdc" stroke-width="0.248" text-anchor="start" >InZnO (8:2)</text>
<g transform="translate(1.20,-1.90)">
<rect x="6.9" y="31.2" width="10.8" height="15.6" fill="#d9d9d9"/>
<rect x="32" y="31.2" width="10.9" height="15.6" fill="#d9d9d9"/>
<rect x="13.1" y="39.4" width="23.1" height="7.4" fill="#1b8fdc"/>
<rect x="3.9" y="46.7" width="41.9" height="8.6" fill="#f9a870"/>
<rect x="4.6" y="55.2" width="40.6" height="5.9" fill="#7d7d7d"/>
<text x="12.10" y="38.20" font-family="'Liberation Serif','Times New Roman',serif" font-size="5.2" font-weight="bold" font-style="normal" fill="#222" stroke="#222" stroke-width="0.182" text-anchor="middle" >Al</text>
<text x="37.20" y="38.20" font-family="'Liberation Serif','Times New Roman',serif" font-size="5.2" font-weight="bold" font-style="normal" fill="#222" stroke="#222" stroke-width="0.182" text-anchor="middle" >Al</text>
<text x="25.20" y="52.80" font-family="'Liberation Serif','Times New Roman',serif" font-size="5.4" font-weight="bold" font-style="normal" fill="#3a2008" stroke="#3a2008" stroke-width="0.189" text-anchor="middle" >SiO<tspan font-size="65%" dy="0.25em">2</tspan></text>
<text x="25.20" y="59.90" font-family="'Liberation Serif','Times New Roman',serif" font-size="5.4" font-weight="bold" font-style="normal" fill="#111" stroke="#111" stroke-width="0.189" text-anchor="middle" >p<tspan font-size="65%" dy="-0.4em">++</tspan><tspan dy="0.26em">-Si</tspan></text>
<path d="M25.5,39.4L23,29.6" stroke="#1b8fdc" stroke-width="0.5" fill="none"/>
<path d="M22.3,26.6L24.2,29.6L21.6,30.2Z" fill="#1b8fdc"/>
<path d="M25,61V68" stroke="#333" stroke-width="0.5"/>
<circle cx="25" cy="68.6" r="2.0" fill="#000"/>
<text x="10.00" y="76.20" font-family="'Liberation Serif','Times New Roman',serif" font-size="5.5" font-weight="bold" font-style="normal" fill="#222" stroke="#222" stroke-width="0.193" text-anchor="start" xml:space="preserve">V<tspan font-size="68%" dy="0.36em">GS</tspan><tspan dy="-0.245em"> (+ 10 V)</tspan></text>
</g></g>
<text x="303.60" y="249.00" font-family="'Liberation Serif','Times New Roman',serif" font-size="8.4" font-weight="bold" font-style="normal" fill="#000" stroke="#000" stroke-width="0.294" text-anchor="start" xml:space="preserve">V<tspan font-size="68%" dy="0.36em">DS</tspan><tspan dy="-0.245em"> = 10 V</tspan></text>
<g filter="url(#glow)" style="mix-blend-mode:multiply"><path d="M288.00,338.60H300.60" stroke="#ffff7a" stroke-width="5.4" stroke-linecap="round" fill="none"/><path d="M300.60,334.60L309.50,338.60L300.60,342.60Z" fill="#ffff7a" stroke="#ffff7a" stroke-width="4.2" stroke-linejoin="round"/></g>
<path d="M288.80,338.60H301.60" stroke="#000" stroke-width="2.0" fill="none"/>
<path d="M300.60,334.60L309.50,338.60L300.60,342.60Z" fill="#000"/>
<text x="283.80" y="340.70" font-family="'Liberation Serif','Times New Roman',serif" font-size="9.4" font-weight="bold" font-style="normal" fill="#000" stroke="#000" stroke-width="0.329" text-anchor="end" >0 s</text>
<text x="313.90" y="341.90" font-family="'Liberation Serif','Times New Roman',serif" font-size="9.4" font-weight="bold" font-style="normal" fill="#ff1f6e" stroke="#ff1f6e" stroke-width="0.329" text-anchor="start" >7.2 ks</text>
<text x="313.20" y="356.60" font-family="'Liberation Serif','Times New Roman',serif" font-size="8.3" font-weight="bold" font-style="normal" fill="#ff1f6e" stroke="#ff1f6e" stroke-width="0.291" text-anchor="start" >[&#916;V<tspan font-size="68%" dy="0.36em">Th</tspan></text>
<text x="315.00" y="366.40" font-family="'Liberation Serif','Times New Roman',serif" font-size="8.3" font-weight="bold" font-style="normal" fill="#ff1f6e" stroke="#ff1f6e" stroke-width="0.291" text-anchor="start" xml:space="preserve">= 5.4 V]</text>
</g>
</g>
</svg>
</body></html>
